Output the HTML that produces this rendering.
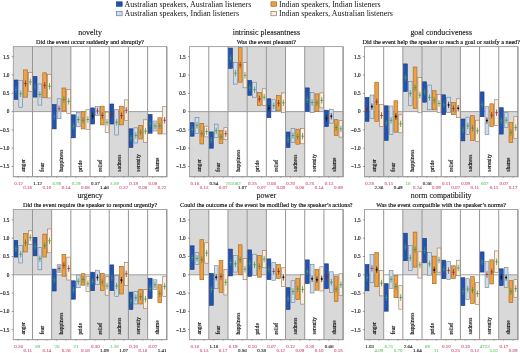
<!DOCTYPE html><html><head><meta charset="utf-8"><style>html,body{margin:0;padding:0;background:#fff;overflow:hidden;}svg{display:block}.d{fill:#111;stroke:#111;stroke-width:0.15px}.n{fill:#111}</style></head><body>
<svg width="520" height="353" viewBox="0 0 520 353" font-family='"Liberation Serif", "Times New Roman", serif'>
<rect width="520" height="353" fill="#fff"/>
<rect x="116.55" y="1.85" width="5.6" height="4.4" fill="#2153b2" stroke="#1a3a7a" stroke-width="0.7"/>
<text x="124.6" y="7.1" font-size="7.9" class="n">Australian speakers, Australian listeners</text>
<rect x="116.55" y="11.35" width="5.6" height="4.4" fill="#d0dcea" stroke="#6a809c" stroke-width="0.7"/>
<text x="124.6" y="16.4" font-size="7.9" class="n">Australian speakers, Indian listeners</text>
<rect x="270.95" y="1.85" width="5.6" height="4.4" fill="#efa043" stroke="#9a6424" stroke-width="0.7"/>
<text x="279" y="7.1" font-size="7.9" class="n">Indian speakers, Indian listeners</text>
<rect x="270.95" y="11.35" width="5.6" height="4.4" fill="#fcefdf" stroke="#94785a" stroke-width="0.7"/>
<text x="279" y="16.4" font-size="7.9" class="n">Indian speakers, Australian listeners</text>
<text x="90.05" y="35.4" font-size="7.9" text-anchor="middle" class="n" stroke="#111" stroke-width="0.1">novelty</text>
<text x="90.05" y="43.6" font-size="6.2" text-anchor="middle" class="d">Did the event occur suddenly and abruptly?</text>
<rect x="13.3" y="46.6" width="19.19" height="65" fill="#d9d9d9"/>
<rect x="32.49" y="46.6" width="19.19" height="65" fill="#d9d9d9"/>
<rect x="51.67" y="46.6" width="19.19" height="65" fill="#d9d9d9"/>
<rect x="109.24" y="111.6" width="19.19" height="65.1" fill="#d9d9d9"/>
<rect x="128.43" y="111.6" width="19.19" height="65.1" fill="#d9d9d9"/>
<line x1="13.3" y1="111.6" x2="166.8" y2="111.6" stroke="#8a8a8a" stroke-width="0.8"/>
<line x1="32.49" y1="46.6" x2="32.49" y2="176.7" stroke="#969696" stroke-width="1.0"/>
<line x1="51.67" y1="46.6" x2="51.67" y2="176.7" stroke="#969696" stroke-width="1.0"/>
<line x1="70.86" y1="46.6" x2="70.86" y2="176.7" stroke="#969696" stroke-width="1.0"/>
<line x1="90.05" y1="46.6" x2="90.05" y2="176.7" stroke="#969696" stroke-width="1.0"/>
<line x1="109.24" y1="46.6" x2="109.24" y2="176.7" stroke="#969696" stroke-width="1.0"/>
<line x1="128.43" y1="46.6" x2="128.43" y2="176.7" stroke="#969696" stroke-width="1.0"/>
<line x1="147.61" y1="46.6" x2="147.61" y2="176.7" stroke="#969696" stroke-width="1.0"/>
<rect x="14" y="80" width="3.8" height="19.4" fill="#2153b2" stroke="#1a3a7a" stroke-width="0.6"/>
<line x1="15.9" y1="86.5" x2="15.9" y2="92.9" stroke="#4f86b8" stroke-width="0.7"/>
<line x1="14.6" y1="89.7" x2="17.3" y2="89.7" stroke="#4f86b8" stroke-width="0.7"/>
<rect x="18.8" y="80.3" width="3.8" height="27.1" fill="#d0dcea" stroke="#6a809c" stroke-width="0.6"/>
<line x1="20.7" y1="90.65" x2="20.7" y2="97.05" stroke="#3a8a3a" stroke-width="0.7"/>
<line x1="19.4" y1="93.85" x2="22.1" y2="93.85" stroke="#3a8a3a" stroke-width="0.7"/>
<rect x="23.6" y="69.9" width="3.8" height="27.3" fill="#efa043" stroke="#9a6424" stroke-width="0.6"/>
<line x1="25.5" y1="80.35" x2="25.5" y2="86.75" stroke="#8a1c1c" stroke-width="0.7"/>
<line x1="24.2" y1="83.55" x2="26.9" y2="83.55" stroke="#8a1c1c" stroke-width="0.7"/>
<rect x="28.4" y="72.5" width="3.8" height="18.8" fill="#fcefdf" stroke="#94785a" stroke-width="0.6"/>
<line x1="30.3" y1="78.7" x2="30.3" y2="85.1" stroke="#3a8a3a" stroke-width="0.7"/>
<line x1="29" y1="81.9" x2="31.7" y2="81.9" stroke="#3a8a3a" stroke-width="0.7"/>
<rect x="33.19" y="76.5" width="3.8" height="20.6" fill="#2153b2" stroke="#1a3a7a" stroke-width="0.6"/>
<line x1="35.09" y1="83.6" x2="35.09" y2="90" stroke="#4f86b8" stroke-width="0.7"/>
<line x1="33.79" y1="86.8" x2="36.49" y2="86.8" stroke="#4f86b8" stroke-width="0.7"/>
<rect x="37.99" y="83.9" width="3.8" height="21.2" fill="#d0dcea" stroke="#6a809c" stroke-width="0.6"/>
<line x1="39.89" y1="91.3" x2="39.89" y2="97.7" stroke="#3a8a3a" stroke-width="0.7"/>
<line x1="38.59" y1="94.5" x2="41.29" y2="94.5" stroke="#3a8a3a" stroke-width="0.7"/>
<rect x="42.79" y="72.8" width="3.8" height="25" fill="#efa043" stroke="#9a6424" stroke-width="0.6"/>
<line x1="44.69" y1="82.1" x2="44.69" y2="88.5" stroke="#8a1c1c" stroke-width="0.7"/>
<line x1="43.39" y1="85.3" x2="46.09" y2="85.3" stroke="#8a1c1c" stroke-width="0.7"/>
<rect x="47.59" y="74.5" width="3.8" height="23.5" fill="#fcefdf" stroke="#94785a" stroke-width="0.6"/>
<line x1="49.49" y1="83.05" x2="49.49" y2="89.45" stroke="#3a8a3a" stroke-width="0.7"/>
<line x1="48.19" y1="86.25" x2="50.89" y2="86.25" stroke="#3a8a3a" stroke-width="0.7"/>
<rect x="52.38" y="104.6" width="3.8" height="24.3" fill="#2153b2" stroke="#1a3a7a" stroke-width="0.6"/>
<line x1="54.27" y1="113.55" x2="54.27" y2="119.95" stroke="#4f86b8" stroke-width="0.7"/>
<line x1="52.98" y1="116.75" x2="55.67" y2="116.75" stroke="#4f86b8" stroke-width="0.7"/>
<rect x="57.17" y="98.8" width="3.8" height="19.9" fill="#d0dcea" stroke="#6a809c" stroke-width="0.6"/>
<line x1="59.07" y1="105.55" x2="59.07" y2="111.95" stroke="#8a1c1c" stroke-width="0.7"/>
<line x1="57.77" y1="108.75" x2="60.47" y2="108.75" stroke="#8a1c1c" stroke-width="0.7"/>
<rect x="61.98" y="88" width="3.8" height="23" fill="#efa043" stroke="#9a6424" stroke-width="0.6"/>
<line x1="63.88" y1="96.3" x2="63.88" y2="102.7" stroke="#3a8a3a" stroke-width="0.7"/>
<line x1="62.58" y1="99.5" x2="65.28" y2="99.5" stroke="#3a8a3a" stroke-width="0.7"/>
<rect x="66.78" y="89.3" width="3.8" height="24.3" fill="#fcefdf" stroke="#94785a" stroke-width="0.6"/>
<line x1="68.68" y1="98.25" x2="68.68" y2="104.65" stroke="#3a8a3a" stroke-width="0.7"/>
<line x1="67.38" y1="101.45" x2="70.08" y2="101.45" stroke="#3a8a3a" stroke-width="0.7"/>
<rect x="71.56" y="114.8" width="3.8" height="23" fill="#2153b2" stroke="#1a3a7a" stroke-width="0.6"/>
<line x1="73.46" y1="123.1" x2="73.46" y2="129.5" stroke="#45a070" stroke-width="0.7"/>
<line x1="72.16" y1="126.3" x2="74.86" y2="126.3" stroke="#45a070" stroke-width="0.7"/>
<rect x="76.36" y="112.3" width="3.8" height="14.5" fill="#d0dcea" stroke="#6a809c" stroke-width="0.6"/>
<line x1="78.26" y1="116.35" x2="78.26" y2="122.75" stroke="#3a8a3a" stroke-width="0.7"/>
<line x1="76.96" y1="119.55" x2="79.66" y2="119.55" stroke="#3a8a3a" stroke-width="0.7"/>
<rect x="81.16" y="111.8" width="3.8" height="17.1" fill="#efa043" stroke="#9a6424" stroke-width="0.6"/>
<line x1="83.06" y1="117.15" x2="83.06" y2="123.55" stroke="#3a8a3a" stroke-width="0.7"/>
<line x1="81.76" y1="120.35" x2="84.46" y2="120.35" stroke="#3a8a3a" stroke-width="0.7"/>
<rect x="85.96" y="109.7" width="3.8" height="19.6" fill="#fcefdf" stroke="#94785a" stroke-width="0.6"/>
<line x1="87.86" y1="116.3" x2="87.86" y2="122.7" stroke="#3a8a3a" stroke-width="0.7"/>
<line x1="86.56" y1="119.5" x2="89.26" y2="119.5" stroke="#3a8a3a" stroke-width="0.7"/>
<rect x="90.75" y="107.9" width="3.8" height="16.1" fill="#2153b2" stroke="#1a3a7a" stroke-width="0.6"/>
<line x1="92.65" y1="112.75" x2="92.65" y2="119.15" stroke="#111111" stroke-width="0.7"/>
<circle cx="92.65" cy="115.95" r="1.05" fill="#111111"/>
<rect x="95.55" y="106.5" width="3.8" height="9" fill="#d0dcea" stroke="#6a809c" stroke-width="0.6"/>
<line x1="97.45" y1="107.8" x2="97.45" y2="114.2" stroke="#8a1c1c" stroke-width="0.7"/>
<line x1="96.15" y1="111" x2="98.85" y2="111" stroke="#8a1c1c" stroke-width="0.7"/>
<rect x="100.35" y="106.2" width="3.8" height="18.7" fill="#efa043" stroke="#9a6424" stroke-width="0.6"/>
<line x1="102.25" y1="112.35" x2="102.25" y2="118.75" stroke="#8a1c1c" stroke-width="0.7"/>
<line x1="100.95" y1="115.55" x2="103.65" y2="115.55" stroke="#8a1c1c" stroke-width="0.7"/>
<rect x="105.15" y="112.1" width="3.8" height="20.4" fill="#fcefdf" stroke="#94785a" stroke-width="0.6"/>
<line x1="107.05" y1="119.1" x2="107.05" y2="125.5" stroke="#3a8a3a" stroke-width="0.7"/>
<line x1="105.75" y1="122.3" x2="108.45" y2="122.3" stroke="#3a8a3a" stroke-width="0.7"/>
<rect x="109.94" y="104" width="3.8" height="20" fill="#2153b2" stroke="#1a3a7a" stroke-width="0.6"/>
<line x1="111.84" y1="110.8" x2="111.84" y2="117.2" stroke="#8a1c1c" stroke-width="0.7"/>
<line x1="110.54" y1="114" x2="113.24" y2="114" stroke="#8a1c1c" stroke-width="0.7"/>
<rect x="114.74" y="109.6" width="3.8" height="25.4" fill="#d0dcea" stroke="#6a809c" stroke-width="0.6"/>
<line x1="116.64" y1="119.1" x2="116.64" y2="125.5" stroke="#3a8a3a" stroke-width="0.7"/>
<line x1="115.34" y1="122.3" x2="118.04" y2="122.3" stroke="#3a8a3a" stroke-width="0.7"/>
<rect x="119.54" y="106.2" width="3.8" height="18.7" fill="#efa043" stroke="#9a6424" stroke-width="0.6"/>
<line x1="121.44" y1="112.35" x2="121.44" y2="118.75" stroke="#8a1c1c" stroke-width="0.7"/>
<line x1="120.14" y1="115.55" x2="122.84" y2="115.55" stroke="#8a1c1c" stroke-width="0.7"/>
<rect x="124.34" y="99.9" width="3.8" height="20.7" fill="#fcefdf" stroke="#94785a" stroke-width="0.6"/>
<line x1="126.24" y1="107.05" x2="126.24" y2="113.45" stroke="#8a1c1c" stroke-width="0.7"/>
<line x1="124.94" y1="110.25" x2="127.64" y2="110.25" stroke="#8a1c1c" stroke-width="0.7"/>
<rect x="129.12" y="128.8" width="3.8" height="18.8" fill="#2153b2" stroke="#1a3a7a" stroke-width="0.6"/>
<line x1="131.03" y1="135" x2="131.03" y2="141.4" stroke="#45a070" stroke-width="0.7"/>
<line x1="129.72" y1="138.2" x2="132.43" y2="138.2" stroke="#45a070" stroke-width="0.7"/>
<rect x="133.93" y="127.8" width="3.8" height="15.2" fill="#d0dcea" stroke="#6a809c" stroke-width="0.6"/>
<line x1="135.83" y1="132.2" x2="135.83" y2="138.6" stroke="#3a8a3a" stroke-width="0.7"/>
<line x1="134.53" y1="135.4" x2="137.23" y2="135.4" stroke="#3a8a3a" stroke-width="0.7"/>
<rect x="138.72" y="125.6" width="3.8" height="13.4" fill="#efa043" stroke="#9a6424" stroke-width="0.6"/>
<line x1="140.62" y1="129.1" x2="140.62" y2="135.5" stroke="#3a8a3a" stroke-width="0.7"/>
<line x1="139.32" y1="132.3" x2="142.03" y2="132.3" stroke="#3a8a3a" stroke-width="0.7"/>
<rect x="143.53" y="119.8" width="3.8" height="22.6" fill="#fcefdf" stroke="#94785a" stroke-width="0.6"/>
<line x1="145.43" y1="127.9" x2="145.43" y2="134.3" stroke="#3a8a3a" stroke-width="0.7"/>
<line x1="144.12" y1="131.1" x2="146.83" y2="131.1" stroke="#3a8a3a" stroke-width="0.7"/>
<rect x="148.31" y="114.4" width="3.8" height="18.8" fill="#2153b2" stroke="#1a3a7a" stroke-width="0.6"/>
<line x1="150.21" y1="120.6" x2="150.21" y2="127" stroke="#45a070" stroke-width="0.7"/>
<line x1="148.91" y1="123.8" x2="151.61" y2="123.8" stroke="#45a070" stroke-width="0.7"/>
<rect x="153.11" y="121" width="3.8" height="10" fill="#d0dcea" stroke="#6a809c" stroke-width="0.6"/>
<line x1="155.01" y1="122.8" x2="155.01" y2="129.2" stroke="#3a8a3a" stroke-width="0.7"/>
<line x1="153.71" y1="126" x2="156.41" y2="126" stroke="#3a8a3a" stroke-width="0.7"/>
<rect x="157.91" y="117.8" width="3.8" height="16.2" fill="#efa043" stroke="#9a6424" stroke-width="0.6"/>
<line x1="159.81" y1="122.7" x2="159.81" y2="129.1" stroke="#3a8a3a" stroke-width="0.7"/>
<line x1="158.51" y1="125.9" x2="161.21" y2="125.9" stroke="#3a8a3a" stroke-width="0.7"/>
<rect x="162.71" y="106.5" width="3.8" height="27.5" fill="#fcefdf" stroke="#94785a" stroke-width="0.6"/>
<line x1="164.61" y1="117.05" x2="164.61" y2="123.45" stroke="#8a1c1c" stroke-width="0.7"/>
<line x1="163.31" y1="120.25" x2="166.01" y2="120.25" stroke="#8a1c1c" stroke-width="0.7"/>
<text transform="translate(24.89,171.7) rotate(-90)" font-size="5.6" class="d">anger</text>
<text transform="translate(44.08,171.7) rotate(-90)" font-size="5.6" class="d">fear</text>
<text transform="translate(63.27,171.7) rotate(-90)" font-size="5.6" class="d">happiness</text>
<text transform="translate(82.46,171.7) rotate(-90)" font-size="5.6" class="d">pride</text>
<text transform="translate(101.64,171.7) rotate(-90)" font-size="5.6" class="d">relief</text>
<text transform="translate(120.83,171.7) rotate(-90)" font-size="5.6" class="d">sadness</text>
<text transform="translate(140.02,171.7) rotate(-90)" font-size="5.6" class="d">serenity</text>
<text transform="translate(159.21,171.7) rotate(-90)" font-size="5.6" class="d">shame</text>
<rect x="13.3" y="46.6" width="153.5" height="130.1" fill="none" stroke="#9c9c9c" stroke-width="0.9"/>
<line x1="12.85" y1="176.7" x2="167.25" y2="176.7" stroke="#999" stroke-width="0.9"/>
<line x1="166.8" y1="46.6" x2="166.8" y2="176.7" stroke="#888" stroke-width="0.9"/>
<line x1="11.7" y1="166.5" x2="13.3" y2="166.5" stroke="#555" stroke-width="0.6"/>
<text x="9.4" y="168.3" font-size="5.2" text-anchor="end" class="d">−1.5</text>
<line x1="11.7" y1="148.2" x2="13.3" y2="148.2" stroke="#555" stroke-width="0.6"/>
<text x="9.4" y="150" font-size="5.2" text-anchor="end" class="d">−1.0</text>
<line x1="11.7" y1="129.9" x2="13.3" y2="129.9" stroke="#555" stroke-width="0.6"/>
<text x="9.4" y="131.7" font-size="5.2" text-anchor="end" class="d">−0.5</text>
<line x1="11.7" y1="111.6" x2="13.3" y2="111.6" stroke="#555" stroke-width="0.6"/>
<text x="9.4" y="113.4" font-size="5.2" text-anchor="end" class="d">0</text>
<line x1="11.7" y1="93.3" x2="13.3" y2="93.3" stroke="#555" stroke-width="0.6"/>
<text x="9.4" y="95.1" font-size="5.2" text-anchor="end" class="d">0.5</text>
<line x1="11.7" y1="75" x2="13.3" y2="75" stroke="#555" stroke-width="0.6"/>
<text x="9.4" y="76.8" font-size="5.2" text-anchor="end" class="d">1.0</text>
<line x1="11.7" y1="56.7" x2="13.3" y2="56.7" stroke="#555" stroke-width="0.6"/>
<text x="9.4" y="58.5" font-size="5.2" text-anchor="end" class="d">1.5</text>
<line x1="18.2" y1="176.7" x2="18.2" y2="178" stroke="#777" stroke-width="0.5"/>
<line x1="27.7" y1="176.7" x2="27.7" y2="178" stroke="#777" stroke-width="0.5"/>
<line x1="37.39" y1="176.7" x2="37.39" y2="178" stroke="#777" stroke-width="0.5"/>
<line x1="46.89" y1="176.7" x2="46.89" y2="178" stroke="#777" stroke-width="0.5"/>
<line x1="56.57" y1="176.7" x2="56.57" y2="178" stroke="#777" stroke-width="0.5"/>
<line x1="66.08" y1="176.7" x2="66.08" y2="178" stroke="#777" stroke-width="0.5"/>
<line x1="75.76" y1="176.7" x2="75.76" y2="178" stroke="#777" stroke-width="0.5"/>
<line x1="85.26" y1="176.7" x2="85.26" y2="178" stroke="#777" stroke-width="0.5"/>
<line x1="94.95" y1="176.7" x2="94.95" y2="178" stroke="#777" stroke-width="0.5"/>
<line x1="104.45" y1="176.7" x2="104.45" y2="178" stroke="#777" stroke-width="0.5"/>
<line x1="114.14" y1="176.7" x2="114.14" y2="178" stroke="#777" stroke-width="0.5"/>
<line x1="123.64" y1="176.7" x2="123.64" y2="178" stroke="#777" stroke-width="0.5"/>
<line x1="133.33" y1="176.7" x2="133.33" y2="178" stroke="#777" stroke-width="0.5"/>
<line x1="142.83" y1="176.7" x2="142.83" y2="178" stroke="#777" stroke-width="0.5"/>
<line x1="152.51" y1="176.7" x2="152.51" y2="178" stroke="#777" stroke-width="0.5"/>
<line x1="162.01" y1="176.7" x2="162.01" y2="178" stroke="#777" stroke-width="0.5"/>
<text x="18.5" y="185.2" font-size="5.0" text-anchor="middle" fill="#d4667f" stroke="#d4667f" stroke-width="0.12">0.12</text>
<text x="27.7" y="188.9" font-size="5.0" text-anchor="middle" fill="#d4667f" stroke="#d4667f" stroke-width="0.12">0.18</text>
<text x="37.69" y="185.2" font-size="5.0" text-anchor="middle" fill="#2a2a2a" stroke="#2a2a2a" stroke-width="0.12">1.12</text>
<text x="46.89" y="188.9" font-size="5.0" text-anchor="middle" fill="#d4667f" stroke="#d4667f" stroke-width="0.12">0.10</text>
<text x="56.88" y="185.2" font-size="5.0" text-anchor="middle" fill="#7ccf7c" stroke="#7ccf7c" stroke-width="0.12">0.98</text>
<text x="66.08" y="188.9" font-size="5.0" text-anchor="middle" fill="#d4667f" stroke="#d4667f" stroke-width="0.12">0.14</text>
<text x="76.06" y="185.2" font-size="5.0" text-anchor="middle" fill="#7ccf7c" stroke="#7ccf7c" stroke-width="0.12">0.29</text>
<text x="85.26" y="188.9" font-size="5.0" text-anchor="middle" fill="#d4667f" stroke="#d4667f" stroke-width="0.12">0.08</text>
<text x="95.25" y="185.2" font-size="5.0" text-anchor="middle" fill="#2a2a2a" stroke="#2a2a2a" stroke-width="0.12">0.37</text>
<text x="104.45" y="188.9" font-size="5.0" text-anchor="middle" fill="#2a2a2a" stroke="#2a2a2a" stroke-width="0.12">1.46</text>
<text x="114.44" y="185.2" font-size="5.0" text-anchor="middle" fill="#7ccf7c" stroke="#7ccf7c" stroke-width="0.12">3.59</text>
<text x="123.64" y="188.9" font-size="5.0" text-anchor="middle" fill="#d4667f" stroke="#d4667f" stroke-width="0.12">0.32</text>
<text x="133.62" y="185.2" font-size="5.0" text-anchor="middle" fill="#d4667f" stroke="#d4667f" stroke-width="0.12">0.19</text>
<text x="142.83" y="188.9" font-size="5.0" text-anchor="middle" fill="#d4667f" stroke="#d4667f" stroke-width="0.12">0.08</text>
<text x="152.81" y="185.2" font-size="5.0" text-anchor="middle" fill="#d4667f" stroke="#d4667f" stroke-width="0.12">0.08</text>
<text x="162.01" y="188.9" font-size="5.0" text-anchor="middle" fill="#d4667f" stroke="#d4667f" stroke-width="0.12">0.22</text>
<text x="266.35" y="35.4" font-size="7.9" text-anchor="middle" class="n" stroke="#111" stroke-width="0.1">intrinsic pleasantness</text>
<text x="266.35" y="43.6" font-size="6.2" text-anchor="middle" class="d">Was the event pleasant?</text>
<rect x="189.6" y="111.6" width="19.19" height="65.1" fill="#d9d9d9"/>
<rect x="208.79" y="111.6" width="19.19" height="65.1" fill="#d9d9d9"/>
<rect x="227.97" y="46.6" width="19.19" height="65" fill="#d9d9d9"/>
<rect x="247.16" y="46.6" width="19.19" height="65" fill="#d9d9d9"/>
<rect x="266.35" y="46.6" width="19.19" height="65" fill="#d9d9d9"/>
<rect x="285.54" y="111.6" width="19.19" height="65.1" fill="#d9d9d9"/>
<rect x="304.73" y="46.6" width="19.19" height="65" fill="#d9d9d9"/>
<rect x="323.91" y="111.6" width="19.19" height="65.1" fill="#d9d9d9"/>
<line x1="189.6" y1="111.6" x2="343.1" y2="111.6" stroke="#8a8a8a" stroke-width="0.8"/>
<line x1="208.79" y1="46.6" x2="208.79" y2="176.7" stroke="#969696" stroke-width="1.0"/>
<line x1="227.97" y1="46.6" x2="227.97" y2="176.7" stroke="#969696" stroke-width="1.0"/>
<line x1="247.16" y1="46.6" x2="247.16" y2="176.7" stroke="#969696" stroke-width="1.0"/>
<line x1="266.35" y1="46.6" x2="266.35" y2="176.7" stroke="#969696" stroke-width="1.0"/>
<line x1="285.54" y1="46.6" x2="285.54" y2="176.7" stroke="#969696" stroke-width="1.0"/>
<line x1="304.73" y1="46.6" x2="304.73" y2="176.7" stroke="#969696" stroke-width="1.0"/>
<line x1="323.91" y1="46.6" x2="323.91" y2="176.7" stroke="#969696" stroke-width="1.0"/>
<rect x="190.3" y="122.7" width="3.8" height="13.5" fill="#2153b2" stroke="#1a3a7a" stroke-width="0.6"/>
<line x1="192.2" y1="126.25" x2="192.2" y2="132.65" stroke="#45a070" stroke-width="0.7"/>
<line x1="190.9" y1="129.45" x2="193.6" y2="129.45" stroke="#45a070" stroke-width="0.7"/>
<rect x="195.1" y="117.3" width="3.8" height="16" fill="#d0dcea" stroke="#6a809c" stroke-width="0.6"/>
<line x1="197" y1="122.1" x2="197" y2="128.5" stroke="#3a8a3a" stroke-width="0.7"/>
<line x1="195.7" y1="125.3" x2="198.4" y2="125.3" stroke="#3a8a3a" stroke-width="0.7"/>
<rect x="199.9" y="123.4" width="3.8" height="20.6" fill="#efa043" stroke="#9a6424" stroke-width="0.6"/>
<line x1="201.8" y1="130.5" x2="201.8" y2="136.9" stroke="#3a8a3a" stroke-width="0.7"/>
<line x1="200.5" y1="133.7" x2="203.2" y2="133.7" stroke="#3a8a3a" stroke-width="0.7"/>
<rect x="204.7" y="126.2" width="3.8" height="10.7" fill="#fcefdf" stroke="#94785a" stroke-width="0.6"/>
<line x1="206.6" y1="128.35" x2="206.6" y2="134.75" stroke="#3a8a3a" stroke-width="0.7"/>
<line x1="205.3" y1="131.55" x2="208" y2="131.55" stroke="#3a8a3a" stroke-width="0.7"/>
<rect x="209.49" y="131.9" width="3.8" height="16.3" fill="#2153b2" stroke="#1a3a7a" stroke-width="0.6"/>
<line x1="211.39" y1="136.85" x2="211.39" y2="143.25" stroke="#45a070" stroke-width="0.7"/>
<line x1="210.09" y1="140.05" x2="212.79" y2="140.05" stroke="#45a070" stroke-width="0.7"/>
<rect x="214.29" y="124.1" width="3.8" height="13.5" fill="#d0dcea" stroke="#6a809c" stroke-width="0.6"/>
<line x1="216.19" y1="127.65" x2="216.19" y2="134.05" stroke="#3a8a3a" stroke-width="0.7"/>
<line x1="214.89" y1="130.85" x2="217.59" y2="130.85" stroke="#3a8a3a" stroke-width="0.7"/>
<rect x="219.09" y="130.5" width="3.8" height="12.8" fill="#efa043" stroke="#9a6424" stroke-width="0.6"/>
<line x1="220.99" y1="133.7" x2="220.99" y2="140.1" stroke="#3a8a3a" stroke-width="0.7"/>
<line x1="219.69" y1="136.9" x2="222.39" y2="136.9" stroke="#3a8a3a" stroke-width="0.7"/>
<rect x="223.89" y="127.7" width="3.8" height="12" fill="#fcefdf" stroke="#94785a" stroke-width="0.6"/>
<line x1="225.79" y1="130.5" x2="225.79" y2="136.9" stroke="#8a1c1c" stroke-width="0.7"/>
<line x1="224.49" y1="133.7" x2="227.19" y2="133.7" stroke="#8a1c1c" stroke-width="0.7"/>
<rect x="228.67" y="48.1" width="3.8" height="20.2" fill="#2153b2" stroke="#1a3a7a" stroke-width="0.6"/>
<line x1="230.57" y1="55" x2="230.57" y2="61.4" stroke="#45a070" stroke-width="0.7"/>
<line x1="229.27" y1="58.2" x2="231.97" y2="58.2" stroke="#45a070" stroke-width="0.7"/>
<rect x="233.47" y="62.3" width="3.8" height="21.8" fill="#d0dcea" stroke="#6a809c" stroke-width="0.6"/>
<line x1="235.38" y1="70" x2="235.38" y2="76.4" stroke="#3a8a3a" stroke-width="0.7"/>
<line x1="234.07" y1="73.2" x2="236.78" y2="73.2" stroke="#3a8a3a" stroke-width="0.7"/>
<rect x="238.27" y="47.7" width="3.8" height="34.5" fill="#efa043" stroke="#9a6424" stroke-width="0.6"/>
<line x1="240.17" y1="61.75" x2="240.17" y2="68.15" stroke="#8a1c1c" stroke-width="0.7"/>
<line x1="238.87" y1="64.95" x2="241.57" y2="64.95" stroke="#8a1c1c" stroke-width="0.7"/>
<rect x="243.07" y="62.7" width="3.8" height="25.1" fill="#fcefdf" stroke="#94785a" stroke-width="0.6"/>
<line x1="244.97" y1="72.05" x2="244.97" y2="78.45" stroke="#3a8a3a" stroke-width="0.7"/>
<line x1="243.67" y1="75.25" x2="246.38" y2="75.25" stroke="#3a8a3a" stroke-width="0.7"/>
<rect x="247.86" y="80.4" width="3.8" height="14.9" fill="#2153b2" stroke="#1a3a7a" stroke-width="0.6"/>
<line x1="249.76" y1="84.65" x2="249.76" y2="91.05" stroke="#45a070" stroke-width="0.7"/>
<line x1="248.46" y1="87.85" x2="251.16" y2="87.85" stroke="#45a070" stroke-width="0.7"/>
<rect x="252.66" y="82.2" width="3.8" height="15" fill="#d0dcea" stroke="#6a809c" stroke-width="0.6"/>
<line x1="254.56" y1="86.5" x2="254.56" y2="92.9" stroke="#3a8a3a" stroke-width="0.7"/>
<line x1="253.26" y1="89.7" x2="255.96" y2="89.7" stroke="#3a8a3a" stroke-width="0.7"/>
<rect x="257.46" y="92.5" width="3.8" height="13.1" fill="#efa043" stroke="#9a6424" stroke-width="0.6"/>
<line x1="259.36" y1="95.85" x2="259.36" y2="102.25" stroke="#8a1c1c" stroke-width="0.7"/>
<line x1="258.06" y1="99.05" x2="260.76" y2="99.05" stroke="#8a1c1c" stroke-width="0.7"/>
<rect x="262.26" y="88.8" width="3.8" height="16.8" fill="#fcefdf" stroke="#94785a" stroke-width="0.6"/>
<line x1="264.16" y1="94" x2="264.16" y2="100.4" stroke="#3a8a3a" stroke-width="0.7"/>
<line x1="262.86" y1="97.2" x2="265.56" y2="97.2" stroke="#3a8a3a" stroke-width="0.7"/>
<rect x="267.05" y="98.8" width="3.8" height="18.9" fill="#2153b2" stroke="#1a3a7a" stroke-width="0.6"/>
<line x1="268.95" y1="105.05" x2="268.95" y2="111.45" stroke="#111111" stroke-width="0.7"/>
<circle cx="268.95" cy="108.25" r="1.05" fill="#111111"/>
<rect x="271.85" y="99.8" width="3.8" height="11.9" fill="#d0dcea" stroke="#6a809c" stroke-width="0.6"/>
<line x1="273.75" y1="102.55" x2="273.75" y2="108.95" stroke="#3a8a3a" stroke-width="0.7"/>
<line x1="272.45" y1="105.75" x2="275.15" y2="105.75" stroke="#3a8a3a" stroke-width="0.7"/>
<rect x="276.65" y="95.5" width="3.8" height="15.3" fill="#efa043" stroke="#9a6424" stroke-width="0.6"/>
<line x1="278.55" y1="99.95" x2="278.55" y2="106.35" stroke="#8a1c1c" stroke-width="0.7"/>
<line x1="277.25" y1="103.15" x2="279.95" y2="103.15" stroke="#8a1c1c" stroke-width="0.7"/>
<rect x="281.45" y="92.9" width="3.8" height="19.8" fill="#fcefdf" stroke="#94785a" stroke-width="0.6"/>
<line x1="283.35" y1="99.6" x2="283.35" y2="106" stroke="#3a8a3a" stroke-width="0.7"/>
<line x1="282.05" y1="102.8" x2="284.75" y2="102.8" stroke="#3a8a3a" stroke-width="0.7"/>
<rect x="286.24" y="132" width="3.8" height="15.5" fill="#2153b2" stroke="#1a3a7a" stroke-width="0.6"/>
<line x1="288.14" y1="136.55" x2="288.14" y2="142.95" stroke="#45a070" stroke-width="0.7"/>
<line x1="286.84" y1="139.75" x2="289.54" y2="139.75" stroke="#45a070" stroke-width="0.7"/>
<rect x="291.04" y="128.5" width="3.8" height="14.1" fill="#d0dcea" stroke="#6a809c" stroke-width="0.6"/>
<line x1="292.94" y1="132.35" x2="292.94" y2="138.75" stroke="#3a8a3a" stroke-width="0.7"/>
<line x1="291.64" y1="135.55" x2="294.34" y2="135.55" stroke="#3a8a3a" stroke-width="0.7"/>
<rect x="295.84" y="129.2" width="3.8" height="15" fill="#efa043" stroke="#9a6424" stroke-width="0.6"/>
<line x1="297.74" y1="133.5" x2="297.74" y2="139.9" stroke="#3a8a3a" stroke-width="0.7"/>
<line x1="296.44" y1="136.7" x2="299.14" y2="136.7" stroke="#3a8a3a" stroke-width="0.7"/>
<rect x="300.64" y="128.6" width="3.8" height="15.2" fill="#fcefdf" stroke="#94785a" stroke-width="0.6"/>
<line x1="302.54" y1="133" x2="302.54" y2="139.4" stroke="#3a8a3a" stroke-width="0.7"/>
<line x1="301.24" y1="136.2" x2="303.94" y2="136.2" stroke="#3a8a3a" stroke-width="0.7"/>
<rect x="305.43" y="87.9" width="3.8" height="23.4" fill="#2153b2" stroke="#1a3a7a" stroke-width="0.6"/>
<line x1="307.32" y1="96.4" x2="307.32" y2="102.8" stroke="#45a070" stroke-width="0.7"/>
<line x1="306.03" y1="99.6" x2="308.73" y2="99.6" stroke="#45a070" stroke-width="0.7"/>
<rect x="310.23" y="92.3" width="3.8" height="20.4" fill="#d0dcea" stroke="#6a809c" stroke-width="0.6"/>
<line x1="312.12" y1="99.3" x2="312.12" y2="105.7" stroke="#3a8a3a" stroke-width="0.7"/>
<line x1="310.83" y1="102.5" x2="313.53" y2="102.5" stroke="#3a8a3a" stroke-width="0.7"/>
<rect x="315.03" y="93.9" width="3.8" height="17.8" fill="#efa043" stroke="#9a6424" stroke-width="0.6"/>
<line x1="316.93" y1="99.6" x2="316.93" y2="106" stroke="#3a8a3a" stroke-width="0.7"/>
<line x1="315.63" y1="102.8" x2="318.33" y2="102.8" stroke="#3a8a3a" stroke-width="0.7"/>
<rect x="319.82" y="92.9" width="3.8" height="14.9" fill="#fcefdf" stroke="#94785a" stroke-width="0.6"/>
<line x1="321.72" y1="97.15" x2="321.72" y2="103.55" stroke="#3a8a3a" stroke-width="0.7"/>
<line x1="320.43" y1="100.35" x2="323.12" y2="100.35" stroke="#3a8a3a" stroke-width="0.7"/>
<rect x="324.61" y="110.2" width="3.8" height="16.4" fill="#2153b2" stroke="#1a3a7a" stroke-width="0.6"/>
<line x1="326.51" y1="115.2" x2="326.51" y2="121.6" stroke="#111111" stroke-width="0.7"/>
<circle cx="326.51" cy="118.4" r="1.05" fill="#111111"/>
<rect x="329.41" y="109.2" width="3.8" height="14" fill="#d0dcea" stroke="#6a809c" stroke-width="0.6"/>
<line x1="331.31" y1="113" x2="331.31" y2="119.4" stroke="#111111" stroke-width="0.7"/>
<circle cx="331.31" cy="116.2" r="1.05" fill="#111111"/>
<rect x="334.21" y="119.7" width="3.8" height="15.7" fill="#efa043" stroke="#9a6424" stroke-width="0.6"/>
<line x1="336.11" y1="124.35" x2="336.11" y2="130.75" stroke="#3a8a3a" stroke-width="0.7"/>
<line x1="334.81" y1="127.55" x2="337.51" y2="127.55" stroke="#3a8a3a" stroke-width="0.7"/>
<rect x="339.01" y="120.7" width="3.8" height="16.4" fill="#fcefdf" stroke="#94785a" stroke-width="0.6"/>
<line x1="340.91" y1="125.7" x2="340.91" y2="132.1" stroke="#3a8a3a" stroke-width="0.7"/>
<line x1="339.61" y1="128.9" x2="342.31" y2="128.9" stroke="#3a8a3a" stroke-width="0.7"/>
<text transform="translate(201.19,171.7) rotate(-90)" font-size="5.6" class="d">anger</text>
<text transform="translate(220.38,171.7) rotate(-90)" font-size="5.6" class="d">fear</text>
<text transform="translate(239.57,171.7) rotate(-90)" font-size="5.6" class="d">happiness</text>
<text transform="translate(258.76,171.7) rotate(-90)" font-size="5.6" class="d">pride</text>
<text transform="translate(277.94,171.7) rotate(-90)" font-size="5.6" class="d">relief</text>
<text transform="translate(297.13,171.7) rotate(-90)" font-size="5.6" class="d">sadness</text>
<text transform="translate(316.32,171.7) rotate(-90)" font-size="5.6" class="d">serenity</text>
<text transform="translate(335.51,171.7) rotate(-90)" font-size="5.6" class="d">shame</text>
<rect x="189.6" y="46.6" width="153.5" height="130.1" fill="none" stroke="#9c9c9c" stroke-width="0.9"/>
<line x1="189.15" y1="176.7" x2="343.55" y2="176.7" stroke="#999" stroke-width="0.9"/>
<line x1="343.1" y1="46.6" x2="343.1" y2="176.7" stroke="#888" stroke-width="0.9"/>
<line x1="188" y1="166.5" x2="189.6" y2="166.5" stroke="#555" stroke-width="0.6"/>
<text x="185.7" y="168.3" font-size="5.2" text-anchor="end" class="d">−1.5</text>
<line x1="188" y1="148.2" x2="189.6" y2="148.2" stroke="#555" stroke-width="0.6"/>
<text x="185.7" y="150" font-size="5.2" text-anchor="end" class="d">−1.0</text>
<line x1="188" y1="129.9" x2="189.6" y2="129.9" stroke="#555" stroke-width="0.6"/>
<text x="185.7" y="131.7" font-size="5.2" text-anchor="end" class="d">−0.5</text>
<line x1="188" y1="111.6" x2="189.6" y2="111.6" stroke="#555" stroke-width="0.6"/>
<text x="185.7" y="113.4" font-size="5.2" text-anchor="end" class="d">0</text>
<line x1="188" y1="93.3" x2="189.6" y2="93.3" stroke="#555" stroke-width="0.6"/>
<text x="185.7" y="95.1" font-size="5.2" text-anchor="end" class="d">0.5</text>
<line x1="188" y1="75" x2="189.6" y2="75" stroke="#555" stroke-width="0.6"/>
<text x="185.7" y="76.8" font-size="5.2" text-anchor="end" class="d">1.0</text>
<line x1="188" y1="56.7" x2="189.6" y2="56.7" stroke="#555" stroke-width="0.6"/>
<text x="185.7" y="58.5" font-size="5.2" text-anchor="end" class="d">1.5</text>
<line x1="194.5" y1="176.7" x2="194.5" y2="178" stroke="#777" stroke-width="0.5"/>
<line x1="204" y1="176.7" x2="204" y2="178" stroke="#777" stroke-width="0.5"/>
<line x1="213.69" y1="176.7" x2="213.69" y2="178" stroke="#777" stroke-width="0.5"/>
<line x1="223.19" y1="176.7" x2="223.19" y2="178" stroke="#777" stroke-width="0.5"/>
<line x1="232.88" y1="176.7" x2="232.88" y2="178" stroke="#777" stroke-width="0.5"/>
<line x1="242.38" y1="176.7" x2="242.38" y2="178" stroke="#777" stroke-width="0.5"/>
<line x1="252.06" y1="176.7" x2="252.06" y2="178" stroke="#777" stroke-width="0.5"/>
<line x1="261.56" y1="176.7" x2="261.56" y2="178" stroke="#777" stroke-width="0.5"/>
<line x1="271.25" y1="176.7" x2="271.25" y2="178" stroke="#777" stroke-width="0.5"/>
<line x1="280.75" y1="176.7" x2="280.75" y2="178" stroke="#777" stroke-width="0.5"/>
<line x1="290.44" y1="176.7" x2="290.44" y2="178" stroke="#777" stroke-width="0.5"/>
<line x1="299.94" y1="176.7" x2="299.94" y2="178" stroke="#777" stroke-width="0.5"/>
<line x1="309.62" y1="176.7" x2="309.62" y2="178" stroke="#777" stroke-width="0.5"/>
<line x1="319.12" y1="176.7" x2="319.12" y2="178" stroke="#777" stroke-width="0.5"/>
<line x1="328.81" y1="176.7" x2="328.81" y2="178" stroke="#777" stroke-width="0.5"/>
<line x1="338.31" y1="176.7" x2="338.31" y2="178" stroke="#777" stroke-width="0.5"/>
<text x="194.8" y="185.2" font-size="5.0" text-anchor="middle" fill="#d4667f" stroke="#d4667f" stroke-width="0.12">0.16</text>
<text x="204" y="188.9" font-size="5.0" text-anchor="middle" fill="#d4667f" stroke="#d4667f" stroke-width="0.12">0.13</text>
<text x="213.99" y="185.2" font-size="5.0" text-anchor="middle" fill="#2a2a2a" stroke="#2a2a2a" stroke-width="0.12">0.54</text>
<text x="223.19" y="188.9" font-size="5.0" text-anchor="middle" fill="#d4667f" stroke="#d4667f" stroke-width="0.12">0.07</text>
<text x="233.17" y="185.2" font-size="5.0" text-anchor="middle" fill="#7ccf7c" stroke="#7ccf7c" stroke-width="0.12">251062</text>
<text x="242.38" y="188.9" font-size="5.0" text-anchor="middle" fill="#2a2a2a" stroke="#2a2a2a" stroke-width="0.12">1.07</text>
<text x="252.36" y="185.2" font-size="5.0" text-anchor="middle" fill="#d4667f" stroke="#d4667f" stroke-width="0.12">0.25</text>
<text x="261.56" y="188.9" font-size="5.0" text-anchor="middle" fill="#d4667f" stroke="#d4667f" stroke-width="0.12">0.07</text>
<text x="271.55" y="185.2" font-size="5.0" text-anchor="middle" fill="#d4667f" stroke="#d4667f" stroke-width="0.12">0.06</text>
<text x="280.75" y="188.9" font-size="5.0" text-anchor="middle" fill="#d4667f" stroke="#d4667f" stroke-width="0.12">0.00</text>
<text x="290.74" y="185.2" font-size="5.0" text-anchor="middle" fill="#d4667f" stroke="#d4667f" stroke-width="0.12">0.20</text>
<text x="299.94" y="188.9" font-size="5.0" text-anchor="middle" fill="#d4667f" stroke="#d4667f" stroke-width="0.12">0.06</text>
<text x="309.93" y="185.2" font-size="5.0" text-anchor="middle" fill="#d4667f" stroke="#d4667f" stroke-width="0.12">0.25</text>
<text x="319.12" y="188.9" font-size="5.0" text-anchor="middle" fill="#d4667f" stroke="#d4667f" stroke-width="0.12">0.14</text>
<text x="329.11" y="185.2" font-size="5.0" text-anchor="middle" fill="#d4667f" stroke="#d4667f" stroke-width="0.12">0.13</text>
<text x="338.31" y="188.9" font-size="5.0" text-anchor="middle" fill="#d4667f" stroke="#d4667f" stroke-width="0.12">0.09</text>
<text x="441.2" y="35.4" font-size="7.9" text-anchor="middle" class="n" stroke="#111" stroke-width="0.1">goal conduciveness</text>
<text x="441.2" y="43.6" font-size="6.2" text-anchor="middle" class="d">Did the event help the speaker to reach a goal or satisfy a need?</text>
<rect x="364.5" y="111.6" width="19.18" height="65.1" fill="#d9d9d9"/>
<rect x="383.68" y="111.6" width="19.18" height="65.1" fill="#d9d9d9"/>
<rect x="402.85" y="46.6" width="19.18" height="65" fill="#d9d9d9"/>
<rect x="422.02" y="46.6" width="19.18" height="65" fill="#d9d9d9"/>
<rect x="441.2" y="46.6" width="19.18" height="65" fill="#d9d9d9"/>
<rect x="460.38" y="111.6" width="19.18" height="65.1" fill="#d9d9d9"/>
<rect x="498.73" y="111.6" width="19.18" height="65.1" fill="#d9d9d9"/>
<line x1="364.5" y1="111.6" x2="517.9" y2="111.6" stroke="#8a8a8a" stroke-width="0.8"/>
<line x1="383.68" y1="46.6" x2="383.68" y2="176.7" stroke="#969696" stroke-width="1.0"/>
<line x1="402.85" y1="46.6" x2="402.85" y2="176.7" stroke="#969696" stroke-width="1.0"/>
<line x1="422.02" y1="46.6" x2="422.02" y2="176.7" stroke="#969696" stroke-width="1.0"/>
<line x1="441.2" y1="46.6" x2="441.2" y2="176.7" stroke="#969696" stroke-width="1.0"/>
<line x1="460.38" y1="46.6" x2="460.38" y2="176.7" stroke="#969696" stroke-width="1.0"/>
<line x1="479.55" y1="46.6" x2="479.55" y2="176.7" stroke="#969696" stroke-width="1.0"/>
<line x1="498.73" y1="46.6" x2="498.73" y2="176.7" stroke="#969696" stroke-width="1.0"/>
<rect x="365.2" y="97.4" width="3.8" height="23.9" fill="#2153b2" stroke="#1a3a7a" stroke-width="0.6"/>
<line x1="367.1" y1="106.15" x2="367.1" y2="112.55" stroke="#8a1c1c" stroke-width="0.7"/>
<line x1="365.8" y1="109.35" x2="368.5" y2="109.35" stroke="#8a1c1c" stroke-width="0.7"/>
<rect x="370" y="95" width="3.8" height="23.3" fill="#d0dcea" stroke="#6a809c" stroke-width="0.6"/>
<line x1="371.9" y1="103.45" x2="371.9" y2="109.85" stroke="#111111" stroke-width="0.7"/>
<circle cx="371.9" cy="106.65" r="1.05" fill="#111111"/>
<rect x="374.8" y="82.2" width="3.8" height="39.3" fill="#efa043" stroke="#9a6424" stroke-width="0.6"/>
<line x1="376.7" y1="98.65" x2="376.7" y2="105.05" stroke="#8a1c1c" stroke-width="0.7"/>
<line x1="375.4" y1="101.85" x2="378.1" y2="101.85" stroke="#8a1c1c" stroke-width="0.7"/>
<rect x="379.6" y="104.5" width="3.8" height="22" fill="#fcefdf" stroke="#94785a" stroke-width="0.6"/>
<line x1="381.5" y1="112.3" x2="381.5" y2="118.7" stroke="#8a1c1c" stroke-width="0.7"/>
<line x1="380.2" y1="115.5" x2="382.9" y2="115.5" stroke="#8a1c1c" stroke-width="0.7"/>
<rect x="384.38" y="105.8" width="3.8" height="34.6" fill="#2153b2" stroke="#1a3a7a" stroke-width="0.6"/>
<line x1="386.27" y1="119.9" x2="386.27" y2="126.3" stroke="#45a070" stroke-width="0.7"/>
<line x1="384.98" y1="123.1" x2="387.68" y2="123.1" stroke="#45a070" stroke-width="0.7"/>
<rect x="389.18" y="106" width="3.8" height="28.6" fill="#d0dcea" stroke="#6a809c" stroke-width="0.6"/>
<line x1="391.07" y1="117.1" x2="391.07" y2="123.5" stroke="#3a8a3a" stroke-width="0.7"/>
<line x1="389.78" y1="120.3" x2="392.48" y2="120.3" stroke="#3a8a3a" stroke-width="0.7"/>
<rect x="393.98" y="100.8" width="3.8" height="31.4" fill="#efa043" stroke="#9a6424" stroke-width="0.6"/>
<line x1="395.88" y1="113.3" x2="395.88" y2="119.7" stroke="#111111" stroke-width="0.7"/>
<circle cx="395.88" cy="116.5" r="1.05" fill="#111111"/>
<rect x="398.77" y="114.8" width="3.8" height="18" fill="#fcefdf" stroke="#94785a" stroke-width="0.6"/>
<line x1="400.67" y1="120.6" x2="400.67" y2="127" stroke="#3a8a3a" stroke-width="0.7"/>
<line x1="399.38" y1="123.8" x2="402.07" y2="123.8" stroke="#3a8a3a" stroke-width="0.7"/>
<rect x="403.55" y="63.9" width="3.8" height="27.6" fill="#2153b2" stroke="#1a3a7a" stroke-width="0.6"/>
<line x1="405.45" y1="74.5" x2="405.45" y2="80.9" stroke="#45a070" stroke-width="0.7"/>
<line x1="404.15" y1="77.7" x2="406.85" y2="77.7" stroke="#45a070" stroke-width="0.7"/>
<rect x="408.35" y="81.5" width="3.8" height="23.8" fill="#d0dcea" stroke="#6a809c" stroke-width="0.6"/>
<line x1="410.25" y1="90.2" x2="410.25" y2="96.6" stroke="#3a8a3a" stroke-width="0.7"/>
<line x1="408.95" y1="93.4" x2="411.65" y2="93.4" stroke="#3a8a3a" stroke-width="0.7"/>
<rect x="413.15" y="67" width="3.8" height="41.3" fill="#efa043" stroke="#9a6424" stroke-width="0.6"/>
<line x1="415.05" y1="84.45" x2="415.05" y2="90.85" stroke="#3a8a3a" stroke-width="0.7"/>
<line x1="413.75" y1="87.65" x2="416.45" y2="87.65" stroke="#3a8a3a" stroke-width="0.7"/>
<rect x="417.95" y="77.4" width="3.8" height="35.4" fill="#fcefdf" stroke="#94785a" stroke-width="0.6"/>
<line x1="419.85" y1="91.9" x2="419.85" y2="98.3" stroke="#3a8a3a" stroke-width="0.7"/>
<line x1="418.55" y1="95.1" x2="421.25" y2="95.1" stroke="#3a8a3a" stroke-width="0.7"/>
<rect x="422.72" y="81.8" width="3.8" height="20.4" fill="#2153b2" stroke="#1a3a7a" stroke-width="0.6"/>
<line x1="424.62" y1="88.8" x2="424.62" y2="95.2" stroke="#45a070" stroke-width="0.7"/>
<line x1="423.32" y1="92" x2="426.02" y2="92" stroke="#45a070" stroke-width="0.7"/>
<rect x="427.52" y="85.1" width="3.8" height="24.7" fill="#d0dcea" stroke="#6a809c" stroke-width="0.6"/>
<line x1="429.42" y1="94.25" x2="429.42" y2="100.65" stroke="#3a8a3a" stroke-width="0.7"/>
<line x1="428.12" y1="97.45" x2="430.82" y2="97.45" stroke="#3a8a3a" stroke-width="0.7"/>
<rect x="432.32" y="90.7" width="3.8" height="19.1" fill="#efa043" stroke="#9a6424" stroke-width="0.6"/>
<line x1="434.22" y1="97.05" x2="434.22" y2="103.45" stroke="#3a8a3a" stroke-width="0.7"/>
<line x1="432.93" y1="100.25" x2="435.62" y2="100.25" stroke="#3a8a3a" stroke-width="0.7"/>
<rect x="437.12" y="94.5" width="3.8" height="17.9" fill="#fcefdf" stroke="#94785a" stroke-width="0.6"/>
<line x1="439.02" y1="100.25" x2="439.02" y2="106.65" stroke="#3a8a3a" stroke-width="0.7"/>
<line x1="437.72" y1="103.45" x2="440.42" y2="103.45" stroke="#3a8a3a" stroke-width="0.7"/>
<rect x="441.9" y="94.8" width="3.8" height="19.9" fill="#2153b2" stroke="#1a3a7a" stroke-width="0.6"/>
<line x1="443.8" y1="101.55" x2="443.8" y2="107.95" stroke="#45a070" stroke-width="0.7"/>
<line x1="442.5" y1="104.75" x2="445.2" y2="104.75" stroke="#45a070" stroke-width="0.7"/>
<rect x="446.7" y="97.2" width="3.8" height="15.5" fill="#d0dcea" stroke="#6a809c" stroke-width="0.6"/>
<line x1="448.6" y1="101.75" x2="448.6" y2="108.15" stroke="#111111" stroke-width="0.7"/>
<circle cx="448.6" cy="104.95" r="1.05" fill="#111111"/>
<rect x="451.5" y="102.4" width="3.8" height="12.3" fill="#efa043" stroke="#9a6424" stroke-width="0.6"/>
<line x1="453.4" y1="105.35" x2="453.4" y2="111.75" stroke="#8a1c1c" stroke-width="0.7"/>
<line x1="452.1" y1="108.55" x2="454.8" y2="108.55" stroke="#8a1c1c" stroke-width="0.7"/>
<rect x="456.3" y="98.8" width="3.8" height="18.9" fill="#fcefdf" stroke="#94785a" stroke-width="0.6"/>
<line x1="458.2" y1="105.05" x2="458.2" y2="111.45" stroke="#111111" stroke-width="0.7"/>
<circle cx="458.2" cy="108.25" r="1.05" fill="#111111"/>
<rect x="461.07" y="119" width="3.8" height="21.9" fill="#2153b2" stroke="#1a3a7a" stroke-width="0.6"/>
<line x1="462.97" y1="126.75" x2="462.97" y2="133.15" stroke="#45a070" stroke-width="0.7"/>
<line x1="461.68" y1="129.95" x2="464.38" y2="129.95" stroke="#45a070" stroke-width="0.7"/>
<rect x="465.88" y="117.1" width="3.8" height="17.4" fill="#d0dcea" stroke="#6a809c" stroke-width="0.6"/>
<line x1="467.77" y1="122.6" x2="467.77" y2="129" stroke="#3a8a3a" stroke-width="0.7"/>
<line x1="466.48" y1="125.8" x2="469.18" y2="125.8" stroke="#3a8a3a" stroke-width="0.7"/>
<rect x="470.68" y="115.7" width="3.8" height="24.8" fill="#efa043" stroke="#9a6424" stroke-width="0.6"/>
<line x1="472.57" y1="124.9" x2="472.57" y2="131.3" stroke="#3a8a3a" stroke-width="0.7"/>
<line x1="471.28" y1="128.1" x2="473.98" y2="128.1" stroke="#3a8a3a" stroke-width="0.7"/>
<rect x="475.47" y="120.2" width="3.8" height="21.3" fill="#fcefdf" stroke="#94785a" stroke-width="0.6"/>
<line x1="477.37" y1="127.65" x2="477.37" y2="134.05" stroke="#3a8a3a" stroke-width="0.7"/>
<line x1="476.07" y1="130.85" x2="478.77" y2="130.85" stroke="#3a8a3a" stroke-width="0.7"/>
<rect x="480.25" y="91.9" width="3.8" height="24.8" fill="#2153b2" stroke="#1a3a7a" stroke-width="0.6"/>
<line x1="482.15" y1="101.1" x2="482.15" y2="107.5" stroke="#45a070" stroke-width="0.7"/>
<line x1="480.85" y1="104.3" x2="483.55" y2="104.3" stroke="#45a070" stroke-width="0.7"/>
<rect x="485.05" y="106.7" width="3.8" height="27.8" fill="#d0dcea" stroke="#6a809c" stroke-width="0.6"/>
<line x1="486.95" y1="117.4" x2="486.95" y2="123.8" stroke="#111111" stroke-width="0.7"/>
<circle cx="486.95" cy="120.6" r="1.05" fill="#111111"/>
<rect x="489.85" y="103.8" width="3.8" height="22.8" fill="#efa043" stroke="#9a6424" stroke-width="0.6"/>
<line x1="491.75" y1="112" x2="491.75" y2="118.4" stroke="#8a1c1c" stroke-width="0.7"/>
<line x1="490.45" y1="115.2" x2="493.15" y2="115.2" stroke="#8a1c1c" stroke-width="0.7"/>
<rect x="494.65" y="99.8" width="3.8" height="25.8" fill="#fcefdf" stroke="#94785a" stroke-width="0.6"/>
<line x1="496.55" y1="109.5" x2="496.55" y2="115.9" stroke="#8a1c1c" stroke-width="0.7"/>
<line x1="495.25" y1="112.7" x2="497.95" y2="112.7" stroke="#8a1c1c" stroke-width="0.7"/>
<rect x="499.43" y="107.7" width="3.8" height="26.4" fill="#2153b2" stroke="#1a3a7a" stroke-width="0.6"/>
<line x1="501.32" y1="117.7" x2="501.32" y2="124.1" stroke="#45a070" stroke-width="0.7"/>
<line x1="500.03" y1="120.9" x2="502.73" y2="120.9" stroke="#45a070" stroke-width="0.7"/>
<rect x="504.23" y="112.7" width="3.8" height="14.9" fill="#d0dcea" stroke="#6a809c" stroke-width="0.6"/>
<line x1="506.12" y1="116.95" x2="506.12" y2="123.35" stroke="#3a8a3a" stroke-width="0.7"/>
<line x1="504.83" y1="120.15" x2="507.53" y2="120.15" stroke="#3a8a3a" stroke-width="0.7"/>
<rect x="509.03" y="122.6" width="3.8" height="19.9" fill="#efa043" stroke="#9a6424" stroke-width="0.6"/>
<line x1="510.93" y1="129.35" x2="510.93" y2="135.75" stroke="#3a8a3a" stroke-width="0.7"/>
<line x1="509.63" y1="132.55" x2="512.33" y2="132.55" stroke="#3a8a3a" stroke-width="0.7"/>
<rect x="513.83" y="116.7" width="3.8" height="21.8" fill="#fcefdf" stroke="#94785a" stroke-width="0.6"/>
<line x1="515.73" y1="124.4" x2="515.73" y2="130.8" stroke="#3a8a3a" stroke-width="0.7"/>
<line x1="514.43" y1="127.6" x2="517.12" y2="127.6" stroke="#3a8a3a" stroke-width="0.7"/>
<text transform="translate(376.09,171.7) rotate(-90)" font-size="5.6" class="d">anger</text>
<text transform="translate(395.26,171.7) rotate(-90)" font-size="5.6" class="d">fear</text>
<text transform="translate(414.44,171.7) rotate(-90)" font-size="5.6" class="d">happiness</text>
<text transform="translate(433.61,171.7) rotate(-90)" font-size="5.6" class="d">pride</text>
<text transform="translate(452.79,171.7) rotate(-90)" font-size="5.6" class="d">relief</text>
<text transform="translate(471.96,171.7) rotate(-90)" font-size="5.6" class="d">sadness</text>
<text transform="translate(491.14,171.7) rotate(-90)" font-size="5.6" class="d">serenity</text>
<text transform="translate(510.31,171.7) rotate(-90)" font-size="5.6" class="d">shame</text>
<rect x="364.5" y="46.6" width="153.4" height="130.1" fill="none" stroke="#9c9c9c" stroke-width="0.9"/>
<line x1="364.05" y1="176.7" x2="518.35" y2="176.7" stroke="#999" stroke-width="0.9"/>
<line x1="517.9" y1="46.6" x2="517.9" y2="176.7" stroke="#888" stroke-width="0.9"/>
<line x1="362.9" y1="166.5" x2="364.5" y2="166.5" stroke="#555" stroke-width="0.6"/>
<text x="360.6" y="168.3" font-size="5.2" text-anchor="end" class="d">−1.5</text>
<line x1="362.9" y1="148.2" x2="364.5" y2="148.2" stroke="#555" stroke-width="0.6"/>
<text x="360.6" y="150" font-size="5.2" text-anchor="end" class="d">−1.0</text>
<line x1="362.9" y1="129.9" x2="364.5" y2="129.9" stroke="#555" stroke-width="0.6"/>
<text x="360.6" y="131.7" font-size="5.2" text-anchor="end" class="d">−0.5</text>
<line x1="362.9" y1="111.6" x2="364.5" y2="111.6" stroke="#555" stroke-width="0.6"/>
<text x="360.6" y="113.4" font-size="5.2" text-anchor="end" class="d">0</text>
<line x1="362.9" y1="93.3" x2="364.5" y2="93.3" stroke="#555" stroke-width="0.6"/>
<text x="360.6" y="95.1" font-size="5.2" text-anchor="end" class="d">0.5</text>
<line x1="362.9" y1="75" x2="364.5" y2="75" stroke="#555" stroke-width="0.6"/>
<text x="360.6" y="76.8" font-size="5.2" text-anchor="end" class="d">1.0</text>
<line x1="362.9" y1="56.7" x2="364.5" y2="56.7" stroke="#555" stroke-width="0.6"/>
<text x="360.6" y="58.5" font-size="5.2" text-anchor="end" class="d">1.5</text>
<line x1="369.4" y1="176.7" x2="369.4" y2="178" stroke="#777" stroke-width="0.5"/>
<line x1="378.9" y1="176.7" x2="378.9" y2="178" stroke="#777" stroke-width="0.5"/>
<line x1="388.57" y1="176.7" x2="388.57" y2="178" stroke="#777" stroke-width="0.5"/>
<line x1="398.07" y1="176.7" x2="398.07" y2="178" stroke="#777" stroke-width="0.5"/>
<line x1="407.75" y1="176.7" x2="407.75" y2="178" stroke="#777" stroke-width="0.5"/>
<line x1="417.25" y1="176.7" x2="417.25" y2="178" stroke="#777" stroke-width="0.5"/>
<line x1="426.92" y1="176.7" x2="426.92" y2="178" stroke="#777" stroke-width="0.5"/>
<line x1="436.42" y1="176.7" x2="436.42" y2="178" stroke="#777" stroke-width="0.5"/>
<line x1="446.1" y1="176.7" x2="446.1" y2="178" stroke="#777" stroke-width="0.5"/>
<line x1="455.6" y1="176.7" x2="455.6" y2="178" stroke="#777" stroke-width="0.5"/>
<line x1="465.27" y1="176.7" x2="465.27" y2="178" stroke="#777" stroke-width="0.5"/>
<line x1="474.77" y1="176.7" x2="474.77" y2="178" stroke="#777" stroke-width="0.5"/>
<line x1="484.45" y1="176.7" x2="484.45" y2="178" stroke="#777" stroke-width="0.5"/>
<line x1="493.95" y1="176.7" x2="493.95" y2="178" stroke="#777" stroke-width="0.5"/>
<line x1="503.62" y1="176.7" x2="503.62" y2="178" stroke="#777" stroke-width="0.5"/>
<line x1="513.12" y1="176.7" x2="513.12" y2="178" stroke="#777" stroke-width="0.5"/>
<text x="369.7" y="185.2" font-size="5.0" text-anchor="middle" fill="#d4667f" stroke="#d4667f" stroke-width="0.12">0.28</text>
<text x="378.9" y="188.9" font-size="5.0" text-anchor="middle" fill="#2a2a2a" stroke="#2a2a2a" stroke-width="0.12">2.36</text>
<text x="388.88" y="185.2" font-size="5.0" text-anchor="middle" fill="#d4667f" stroke="#d4667f" stroke-width="0.12">0.11</text>
<text x="398.07" y="188.9" font-size="5.0" text-anchor="middle" fill="#2a2a2a" stroke="#2a2a2a" stroke-width="0.12">0.49</text>
<text x="408.05" y="185.2" font-size="5.0" text-anchor="middle" fill="#7ccf7c" stroke="#7ccf7c" stroke-width="0.12">16</text>
<text x="417.25" y="188.9" font-size="5.0" text-anchor="middle" fill="#d4667f" stroke="#d4667f" stroke-width="0.12">0.24</text>
<text x="427.22" y="185.2" font-size="5.0" text-anchor="middle" fill="#2a2a2a" stroke="#2a2a2a" stroke-width="0.12">0.36</text>
<text x="436.42" y="188.9" font-size="5.0" text-anchor="middle" fill="#d4667f" stroke="#d4667f" stroke-width="0.12">0.09</text>
<text x="446.4" y="185.2" font-size="5.0" text-anchor="middle" fill="#d4667f" stroke="#d4667f" stroke-width="0.12">0.11</text>
<text x="455.6" y="188.9" font-size="5.0" text-anchor="middle" fill="#d4667f" stroke="#d4667f" stroke-width="0.12">0.07</text>
<text x="465.57" y="185.2" font-size="5.0" text-anchor="middle" fill="#d4667f" stroke="#d4667f" stroke-width="0.12">0.09</text>
<text x="474.77" y="188.9" font-size="5.0" text-anchor="middle" fill="#d4667f" stroke="#d4667f" stroke-width="0.12">0.11</text>
<text x="484.75" y="185.2" font-size="5.0" text-anchor="middle" fill="#7ccf7c" stroke="#7ccf7c" stroke-width="0.12">607</text>
<text x="493.95" y="188.9" font-size="5.0" text-anchor="middle" fill="#d4667f" stroke="#d4667f" stroke-width="0.12">0.11</text>
<text x="503.93" y="185.2" font-size="5.0" text-anchor="middle" fill="#d4667f" stroke="#d4667f" stroke-width="0.12">0.07</text>
<text x="513.12" y="188.9" font-size="5.0" text-anchor="middle" fill="#d4667f" stroke="#d4667f" stroke-width="0.12">0.17</text>
<text x="90.05" y="198.3" font-size="7.9" text-anchor="middle" class="n" stroke="#111" stroke-width="0.1">urgency</text>
<text x="90.05" y="206.5" font-size="6.2" text-anchor="middle" class="d">Did the event require the speaker to respond urgently?</text>
<rect x="13.3" y="209.5" width="19.19" height="65.3" fill="#d9d9d9"/>
<rect x="32.49" y="209.5" width="19.19" height="65.3" fill="#d9d9d9"/>
<rect x="51.67" y="274.8" width="19.19" height="64.8" fill="#d9d9d9"/>
<rect x="90.05" y="274.8" width="19.19" height="64.8" fill="#d9d9d9"/>
<rect x="109.24" y="274.8" width="19.19" height="64.8" fill="#d9d9d9"/>
<rect x="128.43" y="274.8" width="19.19" height="64.8" fill="#d9d9d9"/>
<line x1="13.3" y1="274.8" x2="166.8" y2="274.8" stroke="#8a8a8a" stroke-width="0.8"/>
<line x1="32.49" y1="209.5" x2="32.49" y2="339.6" stroke="#969696" stroke-width="1.0"/>
<line x1="51.67" y1="209.5" x2="51.67" y2="339.6" stroke="#969696" stroke-width="1.0"/>
<line x1="70.86" y1="209.5" x2="70.86" y2="339.6" stroke="#969696" stroke-width="1.0"/>
<line x1="90.05" y1="209.5" x2="90.05" y2="339.6" stroke="#969696" stroke-width="1.0"/>
<line x1="109.24" y1="209.5" x2="109.24" y2="339.6" stroke="#969696" stroke-width="1.0"/>
<line x1="128.43" y1="209.5" x2="128.43" y2="339.6" stroke="#969696" stroke-width="1.0"/>
<line x1="147.61" y1="209.5" x2="147.61" y2="339.6" stroke="#969696" stroke-width="1.0"/>
<rect x="14" y="240.5" width="3.8" height="16.6" fill="#2153b2" stroke="#1a3a7a" stroke-width="0.6"/>
<line x1="15.9" y1="245.6" x2="15.9" y2="252" stroke="#45a070" stroke-width="0.7"/>
<line x1="14.6" y1="248.8" x2="17.3" y2="248.8" stroke="#45a070" stroke-width="0.7"/>
<rect x="18.8" y="245.6" width="3.8" height="17.4" fill="#d0dcea" stroke="#6a809c" stroke-width="0.6"/>
<line x1="20.7" y1="251.1" x2="20.7" y2="257.5" stroke="#3a8a3a" stroke-width="0.7"/>
<line x1="19.4" y1="254.3" x2="22.1" y2="254.3" stroke="#3a8a3a" stroke-width="0.7"/>
<rect x="23.6" y="233.4" width="3.8" height="18.6" fill="#efa043" stroke="#9a6424" stroke-width="0.6"/>
<line x1="25.5" y1="239.5" x2="25.5" y2="245.9" stroke="#3a8a3a" stroke-width="0.7"/>
<line x1="24.2" y1="242.7" x2="26.9" y2="242.7" stroke="#3a8a3a" stroke-width="0.7"/>
<rect x="28.4" y="230.8" width="3.8" height="13.5" fill="#fcefdf" stroke="#94785a" stroke-width="0.6"/>
<line x1="30.3" y1="234.35" x2="30.3" y2="240.75" stroke="#3a8a3a" stroke-width="0.7"/>
<line x1="29" y1="237.55" x2="31.7" y2="237.55" stroke="#3a8a3a" stroke-width="0.7"/>
<rect x="33.19" y="237.4" width="3.8" height="18.4" fill="#2153b2" stroke="#1a3a7a" stroke-width="0.6"/>
<line x1="35.09" y1="243.4" x2="35.09" y2="249.8" stroke="#45a070" stroke-width="0.7"/>
<line x1="33.79" y1="246.6" x2="36.49" y2="246.6" stroke="#45a070" stroke-width="0.7"/>
<rect x="37.99" y="247.7" width="3.8" height="22.1" fill="#d0dcea" stroke="#6a809c" stroke-width="0.6"/>
<line x1="39.89" y1="255.55" x2="39.89" y2="261.95" stroke="#3a8a3a" stroke-width="0.7"/>
<line x1="38.59" y1="258.75" x2="41.29" y2="258.75" stroke="#3a8a3a" stroke-width="0.7"/>
<rect x="42.79" y="234.1" width="3.8" height="23" fill="#efa043" stroke="#9a6424" stroke-width="0.6"/>
<line x1="44.69" y1="242.4" x2="44.69" y2="248.8" stroke="#3a8a3a" stroke-width="0.7"/>
<line x1="43.39" y1="245.6" x2="46.09" y2="245.6" stroke="#3a8a3a" stroke-width="0.7"/>
<rect x="47.59" y="229" width="3.8" height="23.8" fill="#fcefdf" stroke="#94785a" stroke-width="0.6"/>
<line x1="49.49" y1="237.7" x2="49.49" y2="244.1" stroke="#3a8a3a" stroke-width="0.7"/>
<line x1="48.19" y1="240.9" x2="50.89" y2="240.9" stroke="#3a8a3a" stroke-width="0.7"/>
<rect x="52.38" y="269.1" width="3.8" height="21.9" fill="#2153b2" stroke="#1a3a7a" stroke-width="0.6"/>
<line x1="54.27" y1="276.85" x2="54.27" y2="283.25" stroke="#45a070" stroke-width="0.7"/>
<line x1="52.98" y1="280.05" x2="55.67" y2="280.05" stroke="#45a070" stroke-width="0.7"/>
<rect x="57.17" y="264.7" width="3.8" height="7.7" fill="#d0dcea" stroke="#6a809c" stroke-width="0.6"/>
<line x1="59.07" y1="265.5" x2="59.07" y2="271.6" stroke="#8a1c1c" stroke-width="0.7"/>
<line x1="57.77" y1="268.55" x2="60.47" y2="268.55" stroke="#8a1c1c" stroke-width="0.7"/>
<rect x="61.98" y="254.5" width="3.8" height="21.7" fill="#efa043" stroke="#9a6424" stroke-width="0.6"/>
<line x1="63.88" y1="262.15" x2="63.88" y2="268.55" stroke="#8a1c1c" stroke-width="0.7"/>
<line x1="62.58" y1="265.35" x2="65.28" y2="265.35" stroke="#8a1c1c" stroke-width="0.7"/>
<rect x="66.78" y="257.1" width="3.8" height="22.9" fill="#fcefdf" stroke="#94785a" stroke-width="0.6"/>
<line x1="68.68" y1="265.35" x2="68.68" y2="271.75" stroke="#8a1c1c" stroke-width="0.7"/>
<line x1="67.38" y1="268.55" x2="70.08" y2="268.55" stroke="#8a1c1c" stroke-width="0.7"/>
<rect x="71.56" y="280.8" width="3.8" height="18.4" fill="#2153b2" stroke="#1a3a7a" stroke-width="0.6"/>
<line x1="73.46" y1="286.8" x2="73.46" y2="293.2" stroke="#45a070" stroke-width="0.7"/>
<line x1="72.16" y1="290" x2="74.86" y2="290" stroke="#45a070" stroke-width="0.7"/>
<rect x="76.36" y="275" width="3.8" height="12.7" fill="#d0dcea" stroke="#6a809c" stroke-width="0.6"/>
<line x1="78.26" y1="278.15" x2="78.26" y2="284.55" stroke="#3a8a3a" stroke-width="0.7"/>
<line x1="76.96" y1="281.35" x2="79.66" y2="281.35" stroke="#3a8a3a" stroke-width="0.7"/>
<rect x="81.16" y="273.7" width="3.8" height="11.5" fill="#efa043" stroke="#9a6424" stroke-width="0.6"/>
<line x1="83.06" y1="276.25" x2="83.06" y2="282.65" stroke="#3a8a3a" stroke-width="0.7"/>
<line x1="81.76" y1="279.45" x2="84.46" y2="279.45" stroke="#3a8a3a" stroke-width="0.7"/>
<rect x="85.96" y="276.2" width="3.8" height="15.3" fill="#fcefdf" stroke="#94785a" stroke-width="0.6"/>
<line x1="87.86" y1="280.65" x2="87.86" y2="287.05" stroke="#3a8a3a" stroke-width="0.7"/>
<line x1="86.56" y1="283.85" x2="89.26" y2="283.85" stroke="#3a8a3a" stroke-width="0.7"/>
<rect x="90.75" y="272.2" width="3.8" height="18.5" fill="#2153b2" stroke="#1a3a7a" stroke-width="0.6"/>
<line x1="92.65" y1="278.25" x2="92.65" y2="284.65" stroke="#45a070" stroke-width="0.7"/>
<line x1="91.35" y1="281.45" x2="94.05" y2="281.45" stroke="#45a070" stroke-width="0.7"/>
<rect x="95.55" y="270.2" width="3.8" height="14.5" fill="#d0dcea" stroke="#6a809c" stroke-width="0.6"/>
<line x1="97.45" y1="274.25" x2="97.45" y2="280.65" stroke="#111111" stroke-width="0.7"/>
<circle cx="97.45" cy="277.45" r="1.05" fill="#111111"/>
<rect x="100.35" y="273.4" width="3.8" height="17.3" fill="#efa043" stroke="#9a6424" stroke-width="0.6"/>
<line x1="102.25" y1="278.85" x2="102.25" y2="285.25" stroke="#3a8a3a" stroke-width="0.7"/>
<line x1="100.95" y1="282.05" x2="103.65" y2="282.05" stroke="#3a8a3a" stroke-width="0.7"/>
<rect x="105.15" y="276.8" width="3.8" height="18.4" fill="#fcefdf" stroke="#94785a" stroke-width="0.6"/>
<line x1="107.05" y1="282.8" x2="107.05" y2="289.2" stroke="#3a8a3a" stroke-width="0.7"/>
<line x1="105.75" y1="286" x2="108.45" y2="286" stroke="#3a8a3a" stroke-width="0.7"/>
<rect x="109.94" y="264.9" width="3.8" height="25.8" fill="#2153b2" stroke="#1a3a7a" stroke-width="0.6"/>
<line x1="111.84" y1="274.6" x2="111.84" y2="281" stroke="#45a070" stroke-width="0.7"/>
<line x1="110.54" y1="277.8" x2="113.24" y2="277.8" stroke="#45a070" stroke-width="0.7"/>
<rect x="114.74" y="275.4" width="3.8" height="21.2" fill="#d0dcea" stroke="#6a809c" stroke-width="0.6"/>
<line x1="116.64" y1="282.8" x2="116.64" y2="289.2" stroke="#3a8a3a" stroke-width="0.7"/>
<line x1="115.34" y1="286" x2="118.04" y2="286" stroke="#3a8a3a" stroke-width="0.7"/>
<rect x="119.54" y="266.3" width="3.8" height="27.7" fill="#efa043" stroke="#9a6424" stroke-width="0.6"/>
<line x1="121.44" y1="276.95" x2="121.44" y2="283.35" stroke="#111111" stroke-width="0.7"/>
<circle cx="121.44" cy="280.15" r="1.05" fill="#111111"/>
<rect x="124.34" y="262.3" width="3.8" height="23" fill="#fcefdf" stroke="#94785a" stroke-width="0.6"/>
<line x1="126.24" y1="270.6" x2="126.24" y2="277" stroke="#8a1c1c" stroke-width="0.7"/>
<line x1="124.94" y1="273.8" x2="127.64" y2="273.8" stroke="#8a1c1c" stroke-width="0.7"/>
<rect x="129.12" y="292.1" width="3.8" height="17.4" fill="#2153b2" stroke="#1a3a7a" stroke-width="0.6"/>
<line x1="131.03" y1="297.6" x2="131.03" y2="304" stroke="#45a070" stroke-width="0.7"/>
<line x1="129.72" y1="300.8" x2="132.43" y2="300.8" stroke="#45a070" stroke-width="0.7"/>
<rect x="133.93" y="291.3" width="3.8" height="12.7" fill="#d0dcea" stroke="#6a809c" stroke-width="0.6"/>
<line x1="135.83" y1="294.45" x2="135.83" y2="300.85" stroke="#3a8a3a" stroke-width="0.7"/>
<line x1="134.53" y1="297.65" x2="137.23" y2="297.65" stroke="#3a8a3a" stroke-width="0.7"/>
<rect x="138.72" y="289.3" width="3.8" height="14.7" fill="#efa043" stroke="#9a6424" stroke-width="0.6"/>
<line x1="140.62" y1="293.45" x2="140.62" y2="299.85" stroke="#3a8a3a" stroke-width="0.7"/>
<line x1="139.32" y1="296.65" x2="142.03" y2="296.65" stroke="#3a8a3a" stroke-width="0.7"/>
<rect x="143.53" y="289.7" width="3.8" height="18.8" fill="#fcefdf" stroke="#94785a" stroke-width="0.6"/>
<line x1="145.43" y1="295.9" x2="145.43" y2="302.3" stroke="#3a8a3a" stroke-width="0.7"/>
<line x1="144.12" y1="299.1" x2="146.83" y2="299.1" stroke="#3a8a3a" stroke-width="0.7"/>
<rect x="148.31" y="278.2" width="3.8" height="20.4" fill="#2153b2" stroke="#1a3a7a" stroke-width="0.6"/>
<line x1="150.21" y1="285.2" x2="150.21" y2="291.6" stroke="#45a070" stroke-width="0.7"/>
<line x1="148.91" y1="288.4" x2="151.61" y2="288.4" stroke="#45a070" stroke-width="0.7"/>
<rect x="153.11" y="279.8" width="3.8" height="9.9" fill="#d0dcea" stroke="#6a809c" stroke-width="0.6"/>
<line x1="155.01" y1="281.55" x2="155.01" y2="287.95" stroke="#3a8a3a" stroke-width="0.7"/>
<line x1="153.71" y1="284.75" x2="156.41" y2="284.75" stroke="#3a8a3a" stroke-width="0.7"/>
<rect x="157.91" y="284.7" width="3.8" height="17.9" fill="#efa043" stroke="#9a6424" stroke-width="0.6"/>
<line x1="159.81" y1="290.45" x2="159.81" y2="296.85" stroke="#3a8a3a" stroke-width="0.7"/>
<line x1="158.51" y1="293.65" x2="161.21" y2="293.65" stroke="#3a8a3a" stroke-width="0.7"/>
<rect x="162.71" y="276.2" width="3.8" height="20.4" fill="#fcefdf" stroke="#94785a" stroke-width="0.6"/>
<line x1="164.61" y1="283.2" x2="164.61" y2="289.6" stroke="#3a8a3a" stroke-width="0.7"/>
<line x1="163.31" y1="286.4" x2="166.01" y2="286.4" stroke="#3a8a3a" stroke-width="0.7"/>
<text transform="translate(24.89,334.6) rotate(-90)" font-size="5.6" class="d">anger</text>
<text transform="translate(44.08,334.6) rotate(-90)" font-size="5.6" class="d">fear</text>
<text transform="translate(63.27,334.6) rotate(-90)" font-size="5.6" class="d">happiness</text>
<text transform="translate(82.46,334.6) rotate(-90)" font-size="5.6" class="d">pride</text>
<text transform="translate(101.64,334.6) rotate(-90)" font-size="5.6" class="d">relief</text>
<text transform="translate(120.83,334.6) rotate(-90)" font-size="5.6" class="d">sadness</text>
<text transform="translate(140.02,334.6) rotate(-90)" font-size="5.6" class="d">serenity</text>
<text transform="translate(159.21,334.6) rotate(-90)" font-size="5.6" class="d">shame</text>
<rect x="13.3" y="209.5" width="153.5" height="130.1" fill="none" stroke="#9c9c9c" stroke-width="0.9"/>
<line x1="12.85" y1="339.6" x2="167.25" y2="339.6" stroke="#999" stroke-width="0.9"/>
<line x1="166.8" y1="209.5" x2="166.8" y2="339.6" stroke="#888" stroke-width="0.9"/>
<line x1="11.7" y1="329.7" x2="13.3" y2="329.7" stroke="#555" stroke-width="0.6"/>
<text x="9.4" y="331.5" font-size="5.2" text-anchor="end" class="d">−1.5</text>
<line x1="11.7" y1="311.4" x2="13.3" y2="311.4" stroke="#555" stroke-width="0.6"/>
<text x="9.4" y="313.2" font-size="5.2" text-anchor="end" class="d">−1.0</text>
<line x1="11.7" y1="293.1" x2="13.3" y2="293.1" stroke="#555" stroke-width="0.6"/>
<text x="9.4" y="294.9" font-size="5.2" text-anchor="end" class="d">−0.5</text>
<line x1="11.7" y1="274.8" x2="13.3" y2="274.8" stroke="#555" stroke-width="0.6"/>
<text x="9.4" y="276.6" font-size="5.2" text-anchor="end" class="d">0</text>
<line x1="11.7" y1="256.5" x2="13.3" y2="256.5" stroke="#555" stroke-width="0.6"/>
<text x="9.4" y="258.3" font-size="5.2" text-anchor="end" class="d">0.5</text>
<line x1="11.7" y1="238.2" x2="13.3" y2="238.2" stroke="#555" stroke-width="0.6"/>
<text x="9.4" y="240" font-size="5.2" text-anchor="end" class="d">1.0</text>
<line x1="11.7" y1="219.9" x2="13.3" y2="219.9" stroke="#555" stroke-width="0.6"/>
<text x="9.4" y="221.7" font-size="5.2" text-anchor="end" class="d">1.5</text>
<line x1="18.2" y1="339.6" x2="18.2" y2="340.9" stroke="#777" stroke-width="0.5"/>
<line x1="27.7" y1="339.6" x2="27.7" y2="340.9" stroke="#777" stroke-width="0.5"/>
<line x1="37.39" y1="339.6" x2="37.39" y2="340.9" stroke="#777" stroke-width="0.5"/>
<line x1="46.89" y1="339.6" x2="46.89" y2="340.9" stroke="#777" stroke-width="0.5"/>
<line x1="56.57" y1="339.6" x2="56.57" y2="340.9" stroke="#777" stroke-width="0.5"/>
<line x1="66.08" y1="339.6" x2="66.08" y2="340.9" stroke="#777" stroke-width="0.5"/>
<line x1="75.76" y1="339.6" x2="75.76" y2="340.9" stroke="#777" stroke-width="0.5"/>
<line x1="85.26" y1="339.6" x2="85.26" y2="340.9" stroke="#777" stroke-width="0.5"/>
<line x1="94.95" y1="339.6" x2="94.95" y2="340.9" stroke="#777" stroke-width="0.5"/>
<line x1="104.45" y1="339.6" x2="104.45" y2="340.9" stroke="#777" stroke-width="0.5"/>
<line x1="114.14" y1="339.6" x2="114.14" y2="340.9" stroke="#777" stroke-width="0.5"/>
<line x1="123.64" y1="339.6" x2="123.64" y2="340.9" stroke="#777" stroke-width="0.5"/>
<line x1="133.33" y1="339.6" x2="133.33" y2="340.9" stroke="#777" stroke-width="0.5"/>
<line x1="142.83" y1="339.6" x2="142.83" y2="340.9" stroke="#777" stroke-width="0.5"/>
<line x1="152.51" y1="339.6" x2="152.51" y2="340.9" stroke="#777" stroke-width="0.5"/>
<line x1="162.01" y1="339.6" x2="162.01" y2="340.9" stroke="#777" stroke-width="0.5"/>
<text x="18.5" y="348.1" font-size="5.0" text-anchor="middle" fill="#d4667f" stroke="#d4667f" stroke-width="0.12">0.26</text>
<text x="27.7" y="351.8" font-size="5.0" text-anchor="middle" fill="#d4667f" stroke="#d4667f" stroke-width="0.12">0.11</text>
<text x="37.69" y="348.1" font-size="5.0" text-anchor="middle" fill="#7ccf7c" stroke="#7ccf7c" stroke-width="0.12">69</text>
<text x="46.89" y="351.8" font-size="5.0" text-anchor="middle" fill="#d4667f" stroke="#d4667f" stroke-width="0.12">0.14</text>
<text x="56.88" y="348.1" font-size="5.0" text-anchor="middle" fill="#7ccf7c" stroke="#7ccf7c" stroke-width="0.12">26</text>
<text x="66.08" y="351.8" font-size="5.0" text-anchor="middle" fill="#d4667f" stroke="#d4667f" stroke-width="0.12">0.26</text>
<text x="76.06" y="348.1" font-size="5.0" text-anchor="middle" fill="#7ccf7c" stroke="#7ccf7c" stroke-width="0.12">21</text>
<text x="85.26" y="351.8" font-size="5.0" text-anchor="middle" fill="#d4667f" stroke="#d4667f" stroke-width="0.12">0.18</text>
<text x="95.25" y="348.1" font-size="5.0" text-anchor="middle" fill="#d4667f" stroke="#d4667f" stroke-width="0.12">0.30</text>
<text x="104.45" y="351.8" font-size="5.0" text-anchor="middle" fill="#2a2a2a" stroke="#2a2a2a" stroke-width="0.12">1.09</text>
<text x="114.44" y="348.1" font-size="5.0" text-anchor="middle" fill="#7ccf7c" stroke="#7ccf7c" stroke-width="0.12">1.38</text>
<text x="123.64" y="351.8" font-size="5.0" text-anchor="middle" fill="#2a2a2a" stroke="#2a2a2a" stroke-width="0.12">1.07</text>
<text x="133.62" y="348.1" font-size="5.0" text-anchor="middle" fill="#d4667f" stroke="#d4667f" stroke-width="0.12">0.10</text>
<text x="142.83" y="351.8" font-size="5.0" text-anchor="middle" fill="#d4667f" stroke="#d4667f" stroke-width="0.12">0.16</text>
<text x="152.81" y="348.1" font-size="5.0" text-anchor="middle" fill="#d4667f" stroke="#d4667f" stroke-width="0.12">0.07</text>
<text x="162.01" y="351.8" font-size="5.0" text-anchor="middle" fill="#2a2a2a" stroke="#2a2a2a" stroke-width="0.12">1.41</text>
<text x="266.35" y="198.3" font-size="7.9" text-anchor="middle" class="n" stroke="#111" stroke-width="0.1">power</text>
<text x="266.35" y="206.5" font-size="6.2" text-anchor="middle" class="d">Could the outcome of the event be modified by the speaker’s actions?</text>
<rect x="189.6" y="209.5" width="19.19" height="65.3" fill="#d9d9d9"/>
<rect x="208.79" y="274.8" width="19.19" height="64.8" fill="#d9d9d9"/>
<rect x="227.97" y="209.5" width="19.19" height="65.3" fill="#d9d9d9"/>
<rect x="247.16" y="209.5" width="19.19" height="65.3" fill="#d9d9d9"/>
<rect x="285.54" y="274.8" width="19.19" height="64.8" fill="#d9d9d9"/>
<rect x="323.91" y="274.8" width="19.19" height="64.8" fill="#d9d9d9"/>
<line x1="189.6" y1="274.8" x2="343.1" y2="274.8" stroke="#8a8a8a" stroke-width="0.8"/>
<line x1="208.79" y1="209.5" x2="208.79" y2="339.6" stroke="#969696" stroke-width="1.0"/>
<line x1="227.97" y1="209.5" x2="227.97" y2="339.6" stroke="#969696" stroke-width="1.0"/>
<line x1="247.16" y1="209.5" x2="247.16" y2="339.6" stroke="#969696" stroke-width="1.0"/>
<line x1="266.35" y1="209.5" x2="266.35" y2="339.6" stroke="#969696" stroke-width="1.0"/>
<line x1="285.54" y1="209.5" x2="285.54" y2="339.6" stroke="#969696" stroke-width="1.0"/>
<line x1="304.73" y1="209.5" x2="304.73" y2="339.6" stroke="#969696" stroke-width="1.0"/>
<line x1="323.91" y1="209.5" x2="323.91" y2="339.6" stroke="#969696" stroke-width="1.0"/>
<rect x="190.3" y="245.8" width="3.8" height="23.7" fill="#2153b2" stroke="#1a3a7a" stroke-width="0.6"/>
<line x1="192.2" y1="254.45" x2="192.2" y2="260.85" stroke="#45a070" stroke-width="0.7"/>
<line x1="190.9" y1="257.65" x2="193.6" y2="257.65" stroke="#45a070" stroke-width="0.7"/>
<rect x="195.1" y="252.4" width="3.8" height="12" fill="#d0dcea" stroke="#6a809c" stroke-width="0.6"/>
<line x1="197" y1="255.2" x2="197" y2="261.6" stroke="#3a8a3a" stroke-width="0.7"/>
<line x1="195.7" y1="258.4" x2="198.4" y2="258.4" stroke="#3a8a3a" stroke-width="0.7"/>
<rect x="199.9" y="239.7" width="3.8" height="40" fill="#efa043" stroke="#9a6424" stroke-width="0.6"/>
<line x1="201.8" y1="256.5" x2="201.8" y2="262.9" stroke="#3a8a3a" stroke-width="0.7"/>
<line x1="200.5" y1="259.7" x2="203.2" y2="259.7" stroke="#3a8a3a" stroke-width="0.7"/>
<rect x="204.7" y="242.8" width="3.8" height="20.4" fill="#fcefdf" stroke="#94785a" stroke-width="0.6"/>
<line x1="206.6" y1="249.8" x2="206.6" y2="256.2" stroke="#3a8a3a" stroke-width="0.7"/>
<line x1="205.3" y1="253" x2="208" y2="253" stroke="#3a8a3a" stroke-width="0.7"/>
<rect x="209.49" y="273.4" width="3.8" height="31.9" fill="#2153b2" stroke="#1a3a7a" stroke-width="0.6"/>
<line x1="211.39" y1="286.15" x2="211.39" y2="292.55" stroke="#45a070" stroke-width="0.7"/>
<line x1="210.09" y1="289.35" x2="212.79" y2="289.35" stroke="#45a070" stroke-width="0.7"/>
<rect x="214.29" y="265.7" width="3.8" height="23" fill="#d0dcea" stroke="#6a809c" stroke-width="0.6"/>
<line x1="216.19" y1="274" x2="216.19" y2="280.4" stroke="#111111" stroke-width="0.7"/>
<circle cx="216.19" cy="277.2" r="1.05" fill="#111111"/>
<rect x="219.09" y="260.6" width="3.8" height="31.9" fill="#efa043" stroke="#9a6424" stroke-width="0.6"/>
<line x1="220.99" y1="273.35" x2="220.99" y2="279.75" stroke="#8a1c1c" stroke-width="0.7"/>
<line x1="219.69" y1="276.55" x2="222.39" y2="276.55" stroke="#8a1c1c" stroke-width="0.7"/>
<rect x="223.89" y="269.5" width="3.8" height="25.5" fill="#fcefdf" stroke="#94785a" stroke-width="0.6"/>
<line x1="225.79" y1="279.05" x2="225.79" y2="285.45" stroke="#3a8a3a" stroke-width="0.7"/>
<line x1="224.49" y1="282.25" x2="227.19" y2="282.25" stroke="#3a8a3a" stroke-width="0.7"/>
<rect x="228.67" y="249.1" width="3.8" height="26.8" fill="#2153b2" stroke="#1a3a7a" stroke-width="0.6"/>
<line x1="230.57" y1="259.3" x2="230.57" y2="265.7" stroke="#45a070" stroke-width="0.7"/>
<line x1="229.27" y1="262.5" x2="231.97" y2="262.5" stroke="#45a070" stroke-width="0.7"/>
<rect x="233.47" y="255.5" width="3.8" height="16.6" fill="#d0dcea" stroke="#6a809c" stroke-width="0.6"/>
<line x1="235.38" y1="260.6" x2="235.38" y2="267" stroke="#3a8a3a" stroke-width="0.7"/>
<line x1="234.07" y1="263.8" x2="236.78" y2="263.8" stroke="#3a8a3a" stroke-width="0.7"/>
<rect x="238.27" y="244.8" width="3.8" height="29.8" fill="#efa043" stroke="#9a6424" stroke-width="0.6"/>
<line x1="240.17" y1="256.5" x2="240.17" y2="262.9" stroke="#3a8a3a" stroke-width="0.7"/>
<line x1="238.87" y1="259.7" x2="241.57" y2="259.7" stroke="#3a8a3a" stroke-width="0.7"/>
<rect x="243.07" y="258.6" width="3.8" height="21.1" fill="#fcefdf" stroke="#94785a" stroke-width="0.6"/>
<line x1="244.97" y1="265.95" x2="244.97" y2="272.35" stroke="#3a8a3a" stroke-width="0.7"/>
<line x1="243.67" y1="269.15" x2="246.38" y2="269.15" stroke="#3a8a3a" stroke-width="0.7"/>
<rect x="247.86" y="249.9" width="3.8" height="26.5" fill="#2153b2" stroke="#1a3a7a" stroke-width="0.6"/>
<line x1="249.76" y1="259.95" x2="249.76" y2="266.35" stroke="#45a070" stroke-width="0.7"/>
<line x1="248.46" y1="263.15" x2="251.16" y2="263.15" stroke="#45a070" stroke-width="0.7"/>
<rect x="252.66" y="254.2" width="3.8" height="21.2" fill="#d0dcea" stroke="#6a809c" stroke-width="0.6"/>
<line x1="254.56" y1="261.6" x2="254.56" y2="268" stroke="#3a8a3a" stroke-width="0.7"/>
<line x1="253.26" y1="264.8" x2="255.96" y2="264.8" stroke="#3a8a3a" stroke-width="0.7"/>
<rect x="257.46" y="255.5" width="3.8" height="21.7" fill="#efa043" stroke="#9a6424" stroke-width="0.6"/>
<line x1="259.36" y1="263.15" x2="259.36" y2="269.55" stroke="#3a8a3a" stroke-width="0.7"/>
<line x1="258.06" y1="266.35" x2="260.76" y2="266.35" stroke="#3a8a3a" stroke-width="0.7"/>
<rect x="262.26" y="250.4" width="3.8" height="17.4" fill="#fcefdf" stroke="#94785a" stroke-width="0.6"/>
<line x1="264.16" y1="255.9" x2="264.16" y2="262.3" stroke="#3a8a3a" stroke-width="0.7"/>
<line x1="262.86" y1="259.1" x2="265.56" y2="259.1" stroke="#3a8a3a" stroke-width="0.7"/>
<rect x="267.05" y="258.9" width="3.8" height="20.8" fill="#2153b2" stroke="#1a3a7a" stroke-width="0.6"/>
<line x1="268.95" y1="266.1" x2="268.95" y2="272.5" stroke="#45a070" stroke-width="0.7"/>
<line x1="267.65" y1="269.3" x2="270.35" y2="269.3" stroke="#45a070" stroke-width="0.7"/>
<rect x="271.85" y="262.5" width="3.8" height="17.8" fill="#d0dcea" stroke="#6a809c" stroke-width="0.6"/>
<line x1="273.75" y1="268.2" x2="273.75" y2="274.6" stroke="#8a1c1c" stroke-width="0.7"/>
<line x1="272.45" y1="271.4" x2="275.15" y2="271.4" stroke="#8a1c1c" stroke-width="0.7"/>
<rect x="276.65" y="264.4" width="3.8" height="14.3" fill="#efa043" stroke="#9a6424" stroke-width="0.6"/>
<line x1="278.55" y1="268.35" x2="278.55" y2="274.75" stroke="#8a1c1c" stroke-width="0.7"/>
<line x1="277.25" y1="271.55" x2="279.95" y2="271.55" stroke="#8a1c1c" stroke-width="0.7"/>
<rect x="281.45" y="267.8" width="3.8" height="18.9" fill="#fcefdf" stroke="#94785a" stroke-width="0.6"/>
<line x1="283.35" y1="274.05" x2="283.35" y2="280.45" stroke="#111111" stroke-width="0.7"/>
<circle cx="283.35" cy="277.25" r="1.05" fill="#111111"/>
<rect x="286.24" y="287.7" width="3.8" height="21.8" fill="#2153b2" stroke="#1a3a7a" stroke-width="0.6"/>
<line x1="288.14" y1="295.4" x2="288.14" y2="301.8" stroke="#45a070" stroke-width="0.7"/>
<line x1="286.84" y1="298.6" x2="289.54" y2="298.6" stroke="#45a070" stroke-width="0.7"/>
<rect x="291.04" y="280.7" width="3.8" height="21.8" fill="#d0dcea" stroke="#6a809c" stroke-width="0.6"/>
<line x1="292.94" y1="288.4" x2="292.94" y2="294.8" stroke="#3a8a3a" stroke-width="0.7"/>
<line x1="291.64" y1="291.6" x2="294.34" y2="291.6" stroke="#3a8a3a" stroke-width="0.7"/>
<rect x="295.84" y="278.3" width="3.8" height="21.3" fill="#efa043" stroke="#9a6424" stroke-width="0.6"/>
<line x1="297.74" y1="285.75" x2="297.74" y2="292.15" stroke="#3a8a3a" stroke-width="0.7"/>
<line x1="296.44" y1="288.95" x2="299.14" y2="288.95" stroke="#3a8a3a" stroke-width="0.7"/>
<rect x="300.64" y="274.8" width="3.8" height="29.3" fill="#fcefdf" stroke="#94785a" stroke-width="0.6"/>
<line x1="302.54" y1="286.25" x2="302.54" y2="292.65" stroke="#3a8a3a" stroke-width="0.7"/>
<line x1="301.24" y1="289.45" x2="303.94" y2="289.45" stroke="#3a8a3a" stroke-width="0.7"/>
<rect x="305.43" y="259.9" width="3.8" height="23.8" fill="#2153b2" stroke="#1a3a7a" stroke-width="0.6"/>
<line x1="307.32" y1="268.6" x2="307.32" y2="275" stroke="#45a070" stroke-width="0.7"/>
<line x1="306.03" y1="271.8" x2="308.73" y2="271.8" stroke="#45a070" stroke-width="0.7"/>
<rect x="310.23" y="264.4" width="3.8" height="28.6" fill="#d0dcea" stroke="#6a809c" stroke-width="0.6"/>
<line x1="312.12" y1="275.5" x2="312.12" y2="281.9" stroke="#111111" stroke-width="0.7"/>
<circle cx="312.12" cy="278.7" r="1.05" fill="#111111"/>
<rect x="315.03" y="269.2" width="3.8" height="21" fill="#efa043" stroke="#9a6424" stroke-width="0.6"/>
<line x1="316.93" y1="276.5" x2="316.93" y2="282.9" stroke="#111111" stroke-width="0.7"/>
<circle cx="316.93" cy="279.7" r="1.05" fill="#111111"/>
<rect x="319.82" y="266.8" width="3.8" height="24.2" fill="#fcefdf" stroke="#94785a" stroke-width="0.6"/>
<line x1="321.72" y1="275.7" x2="321.72" y2="282.1" stroke="#111111" stroke-width="0.7"/>
<circle cx="321.72" cy="278.9" r="1.05" fill="#111111"/>
<rect x="324.61" y="263.8" width="3.8" height="24.9" fill="#2153b2" stroke="#1a3a7a" stroke-width="0.6"/>
<line x1="326.51" y1="273.05" x2="326.51" y2="279.45" stroke="#8a1c1c" stroke-width="0.7"/>
<line x1="325.21" y1="276.25" x2="327.91" y2="276.25" stroke="#8a1c1c" stroke-width="0.7"/>
<rect x="329.41" y="271.8" width="3.8" height="20.8" fill="#d0dcea" stroke="#6a809c" stroke-width="0.6"/>
<line x1="331.31" y1="279" x2="331.31" y2="285.4" stroke="#3a8a3a" stroke-width="0.7"/>
<line x1="330.01" y1="282.2" x2="332.71" y2="282.2" stroke="#3a8a3a" stroke-width="0.7"/>
<rect x="334.21" y="276.7" width="3.8" height="24.8" fill="#efa043" stroke="#9a6424" stroke-width="0.6"/>
<line x1="336.11" y1="285.9" x2="336.11" y2="292.3" stroke="#3a8a3a" stroke-width="0.7"/>
<line x1="334.81" y1="289.1" x2="337.51" y2="289.1" stroke="#3a8a3a" stroke-width="0.7"/>
<rect x="339.01" y="273.8" width="3.8" height="21.8" fill="#fcefdf" stroke="#94785a" stroke-width="0.6"/>
<line x1="340.91" y1="281.5" x2="340.91" y2="287.9" stroke="#3a8a3a" stroke-width="0.7"/>
<line x1="339.61" y1="284.7" x2="342.31" y2="284.7" stroke="#3a8a3a" stroke-width="0.7"/>
<text transform="translate(201.19,334.6) rotate(-90)" font-size="5.6" class="d">anger</text>
<text transform="translate(220.38,334.6) rotate(-90)" font-size="5.6" class="d">fear</text>
<text transform="translate(239.57,334.6) rotate(-90)" font-size="5.6" class="d">happiness</text>
<text transform="translate(258.76,334.6) rotate(-90)" font-size="5.6" class="d">pride</text>
<text transform="translate(277.94,334.6) rotate(-90)" font-size="5.6" class="d">relief</text>
<text transform="translate(297.13,334.6) rotate(-90)" font-size="5.6" class="d">sadness</text>
<text transform="translate(316.32,334.6) rotate(-90)" font-size="5.6" class="d">serenity</text>
<text transform="translate(335.51,334.6) rotate(-90)" font-size="5.6" class="d">shame</text>
<rect x="189.6" y="209.5" width="153.5" height="130.1" fill="none" stroke="#9c9c9c" stroke-width="0.9"/>
<line x1="189.15" y1="339.6" x2="343.55" y2="339.6" stroke="#999" stroke-width="0.9"/>
<line x1="343.1" y1="209.5" x2="343.1" y2="339.6" stroke="#888" stroke-width="0.9"/>
<line x1="188" y1="329.7" x2="189.6" y2="329.7" stroke="#555" stroke-width="0.6"/>
<text x="185.7" y="331.5" font-size="5.2" text-anchor="end" class="d">−1.5</text>
<line x1="188" y1="311.4" x2="189.6" y2="311.4" stroke="#555" stroke-width="0.6"/>
<text x="185.7" y="313.2" font-size="5.2" text-anchor="end" class="d">−1.0</text>
<line x1="188" y1="293.1" x2="189.6" y2="293.1" stroke="#555" stroke-width="0.6"/>
<text x="185.7" y="294.9" font-size="5.2" text-anchor="end" class="d">−0.5</text>
<line x1="188" y1="274.8" x2="189.6" y2="274.8" stroke="#555" stroke-width="0.6"/>
<text x="185.7" y="276.6" font-size="5.2" text-anchor="end" class="d">0</text>
<line x1="188" y1="256.5" x2="189.6" y2="256.5" stroke="#555" stroke-width="0.6"/>
<text x="185.7" y="258.3" font-size="5.2" text-anchor="end" class="d">0.5</text>
<line x1="188" y1="238.2" x2="189.6" y2="238.2" stroke="#555" stroke-width="0.6"/>
<text x="185.7" y="240" font-size="5.2" text-anchor="end" class="d">1.0</text>
<line x1="188" y1="219.9" x2="189.6" y2="219.9" stroke="#555" stroke-width="0.6"/>
<text x="185.7" y="221.7" font-size="5.2" text-anchor="end" class="d">1.5</text>
<line x1="194.5" y1="339.6" x2="194.5" y2="340.9" stroke="#777" stroke-width="0.5"/>
<line x1="204" y1="339.6" x2="204" y2="340.9" stroke="#777" stroke-width="0.5"/>
<line x1="213.69" y1="339.6" x2="213.69" y2="340.9" stroke="#777" stroke-width="0.5"/>
<line x1="223.19" y1="339.6" x2="223.19" y2="340.9" stroke="#777" stroke-width="0.5"/>
<line x1="232.88" y1="339.6" x2="232.88" y2="340.9" stroke="#777" stroke-width="0.5"/>
<line x1="242.38" y1="339.6" x2="242.38" y2="340.9" stroke="#777" stroke-width="0.5"/>
<line x1="252.06" y1="339.6" x2="252.06" y2="340.9" stroke="#777" stroke-width="0.5"/>
<line x1="261.56" y1="339.6" x2="261.56" y2="340.9" stroke="#777" stroke-width="0.5"/>
<line x1="271.25" y1="339.6" x2="271.25" y2="340.9" stroke="#777" stroke-width="0.5"/>
<line x1="280.75" y1="339.6" x2="280.75" y2="340.9" stroke="#777" stroke-width="0.5"/>
<line x1="290.44" y1="339.6" x2="290.44" y2="340.9" stroke="#777" stroke-width="0.5"/>
<line x1="299.94" y1="339.6" x2="299.94" y2="340.9" stroke="#777" stroke-width="0.5"/>
<line x1="309.62" y1="339.6" x2="309.62" y2="340.9" stroke="#777" stroke-width="0.5"/>
<line x1="319.12" y1="339.6" x2="319.12" y2="340.9" stroke="#777" stroke-width="0.5"/>
<line x1="328.81" y1="339.6" x2="328.81" y2="340.9" stroke="#777" stroke-width="0.5"/>
<line x1="338.31" y1="339.6" x2="338.31" y2="340.9" stroke="#777" stroke-width="0.5"/>
<text x="194.8" y="348.1" font-size="5.0" text-anchor="middle" fill="#d4667f" stroke="#d4667f" stroke-width="0.12">0.10</text>
<text x="204" y="351.8" font-size="5.0" text-anchor="middle" fill="#d4667f" stroke="#d4667f" stroke-width="0.12">0.13</text>
<text x="213.99" y="348.1" font-size="5.0" text-anchor="middle" fill="#2a2a2a" stroke="#2a2a2a" stroke-width="0.12">1.18</text>
<text x="223.19" y="351.8" font-size="5.0" text-anchor="middle" fill="#d4667f" stroke="#d4667f" stroke-width="0.12">0.17</text>
<text x="233.17" y="348.1" font-size="5.0" text-anchor="middle" fill="#d4667f" stroke="#d4667f" stroke-width="0.12">0.19</text>
<text x="242.38" y="351.8" font-size="5.0" text-anchor="middle" fill="#2a2a2a" stroke="#2a2a2a" stroke-width="0.12">0.56</text>
<text x="252.36" y="348.1" font-size="5.0" text-anchor="middle" fill="#d4667f" stroke="#d4667f" stroke-width="0.12">0.10</text>
<text x="261.56" y="351.8" font-size="5.0" text-anchor="middle" fill="#2a2a2a" stroke="#2a2a2a" stroke-width="0.12">0.38</text>
<text x="271.55" y="348.1" font-size="5.0" text-anchor="middle" fill="#d4667f" stroke="#d4667f" stroke-width="0.12">0.07</text>
<text x="280.75" y="351.8" font-size="5.0" text-anchor="middle" fill="#d4667f" stroke="#d4667f" stroke-width="0.12">0.12</text>
<text x="290.74" y="348.1" font-size="5.0" text-anchor="middle" fill="#d4667f" stroke="#d4667f" stroke-width="0.12">0.12</text>
<text x="299.94" y="351.8" font-size="5.0" text-anchor="middle" fill="#d4667f" stroke="#d4667f" stroke-width="0.12">0.09</text>
<text x="309.93" y="348.1" font-size="5.0" text-anchor="middle" fill="#d4667f" stroke="#d4667f" stroke-width="0.12">0.30</text>
<text x="319.12" y="351.8" font-size="5.0" text-anchor="middle" fill="#d4667f" stroke="#d4667f" stroke-width="0.12">0.10</text>
<text x="329.11" y="348.1" font-size="5.0" text-anchor="middle" fill="#2a2a2a" stroke="#2a2a2a" stroke-width="0.12">0.66</text>
<text x="338.31" y="351.8" font-size="5.0" text-anchor="middle" fill="#d4667f" stroke="#d4667f" stroke-width="0.12">0.15</text>
<text x="441.2" y="198.3" font-size="7.9" text-anchor="middle" class="n" stroke="#111" stroke-width="0.1">norm compatibility</text>
<text x="441.2" y="206.5" font-size="6.2" text-anchor="middle" class="d">Was the event compatible with the speaker’s norms?</text>
<rect x="364.5" y="274.8" width="19.18" height="64.8" fill="#d9d9d9"/>
<rect x="402.85" y="209.5" width="19.18" height="65.3" fill="#d9d9d9"/>
<rect x="422.02" y="209.5" width="19.18" height="65.3" fill="#d9d9d9"/>
<rect x="498.73" y="274.8" width="19.18" height="64.8" fill="#d9d9d9"/>
<line x1="364.5" y1="274.8" x2="517.9" y2="274.8" stroke="#8a8a8a" stroke-width="0.8"/>
<line x1="383.68" y1="209.5" x2="383.68" y2="339.6" stroke="#969696" stroke-width="1.0"/>
<line x1="402.85" y1="209.5" x2="402.85" y2="339.6" stroke="#969696" stroke-width="1.0"/>
<line x1="422.02" y1="209.5" x2="422.02" y2="339.6" stroke="#969696" stroke-width="1.0"/>
<line x1="441.2" y1="209.5" x2="441.2" y2="339.6" stroke="#969696" stroke-width="1.0"/>
<line x1="460.38" y1="209.5" x2="460.38" y2="339.6" stroke="#969696" stroke-width="1.0"/>
<line x1="479.55" y1="209.5" x2="479.55" y2="339.6" stroke="#969696" stroke-width="1.0"/>
<line x1="498.73" y1="209.5" x2="498.73" y2="339.6" stroke="#969696" stroke-width="1.0"/>
<rect x="365.2" y="264.5" width="3.8" height="26.3" fill="#2153b2" stroke="#1a3a7a" stroke-width="0.6"/>
<line x1="367.1" y1="274.45" x2="367.1" y2="280.85" stroke="#45a070" stroke-width="0.7"/>
<line x1="365.8" y1="277.65" x2="368.5" y2="277.65" stroke="#45a070" stroke-width="0.7"/>
<rect x="370" y="254.3" width="3.8" height="28.1" fill="#d0dcea" stroke="#6a809c" stroke-width="0.6"/>
<line x1="371.9" y1="265.15" x2="371.9" y2="271.55" stroke="#8a1c1c" stroke-width="0.7"/>
<line x1="370.6" y1="268.35" x2="373.3" y2="268.35" stroke="#8a1c1c" stroke-width="0.7"/>
<rect x="374.8" y="252.6" width="3.8" height="34.1" fill="#efa043" stroke="#9a6424" stroke-width="0.6"/>
<line x1="376.7" y1="266.45" x2="376.7" y2="272.85" stroke="#111111" stroke-width="0.7"/>
<circle cx="376.7" cy="269.65" r="1.05" fill="#111111"/>
<rect x="379.6" y="270.4" width="3.8" height="25.5" fill="#fcefdf" stroke="#94785a" stroke-width="0.6"/>
<line x1="381.5" y1="279.95" x2="381.5" y2="286.35" stroke="#3a8a3a" stroke-width="0.7"/>
<line x1="380.2" y1="283.15" x2="382.9" y2="283.15" stroke="#3a8a3a" stroke-width="0.7"/>
<rect x="384.38" y="283.7" width="3.8" height="27.5" fill="#2153b2" stroke="#1a3a7a" stroke-width="0.6"/>
<line x1="386.27" y1="294.25" x2="386.27" y2="300.65" stroke="#45a070" stroke-width="0.7"/>
<line x1="384.98" y1="297.45" x2="387.68" y2="297.45" stroke="#45a070" stroke-width="0.7"/>
<rect x="389.18" y="270.4" width="3.8" height="17.9" fill="#d0dcea" stroke="#6a809c" stroke-width="0.6"/>
<line x1="391.07" y1="276.15" x2="391.07" y2="282.55" stroke="#3a8a3a" stroke-width="0.7"/>
<line x1="389.78" y1="279.35" x2="392.48" y2="279.35" stroke="#3a8a3a" stroke-width="0.7"/>
<rect x="393.98" y="275.5" width="3.8" height="22.2" fill="#efa043" stroke="#9a6424" stroke-width="0.6"/>
<line x1="395.88" y1="283.4" x2="395.88" y2="289.8" stroke="#3a8a3a" stroke-width="0.7"/>
<line x1="394.58" y1="286.6" x2="397.28" y2="286.6" stroke="#3a8a3a" stroke-width="0.7"/>
<rect x="398.77" y="285.7" width="3.8" height="23.5" fill="#fcefdf" stroke="#94785a" stroke-width="0.6"/>
<line x1="400.67" y1="294.25" x2="400.67" y2="300.65" stroke="#3a8a3a" stroke-width="0.7"/>
<line x1="399.38" y1="297.45" x2="402.07" y2="297.45" stroke="#3a8a3a" stroke-width="0.7"/>
<rect x="403.55" y="233.2" width="3.8" height="27.5" fill="#2153b2" stroke="#1a3a7a" stroke-width="0.6"/>
<line x1="405.45" y1="243.75" x2="405.45" y2="250.15" stroke="#45a070" stroke-width="0.7"/>
<line x1="404.15" y1="246.95" x2="406.85" y2="246.95" stroke="#45a070" stroke-width="0.7"/>
<rect x="408.35" y="245.4" width="3.8" height="25" fill="#d0dcea" stroke="#6a809c" stroke-width="0.6"/>
<line x1="410.25" y1="254.7" x2="410.25" y2="261.1" stroke="#3a8a3a" stroke-width="0.7"/>
<line x1="408.95" y1="257.9" x2="411.65" y2="257.9" stroke="#3a8a3a" stroke-width="0.7"/>
<rect x="413.15" y="232.1" width="3.8" height="35" fill="#efa043" stroke="#9a6424" stroke-width="0.6"/>
<line x1="415.05" y1="246.4" x2="415.05" y2="252.8" stroke="#3a8a3a" stroke-width="0.7"/>
<line x1="413.75" y1="249.6" x2="416.45" y2="249.6" stroke="#3a8a3a" stroke-width="0.7"/>
<rect x="417.95" y="251.8" width="3.8" height="26.3" fill="#fcefdf" stroke="#94785a" stroke-width="0.6"/>
<line x1="419.85" y1="261.75" x2="419.85" y2="268.15" stroke="#3a8a3a" stroke-width="0.7"/>
<line x1="418.55" y1="264.95" x2="421.25" y2="264.95" stroke="#3a8a3a" stroke-width="0.7"/>
<rect x="422.72" y="238.3" width="3.8" height="24.5" fill="#2153b2" stroke="#1a3a7a" stroke-width="0.6"/>
<line x1="424.62" y1="247.35" x2="424.62" y2="253.75" stroke="#45a070" stroke-width="0.7"/>
<line x1="423.32" y1="250.55" x2="426.02" y2="250.55" stroke="#45a070" stroke-width="0.7"/>
<rect x="427.52" y="252.6" width="3.8" height="22.6" fill="#d0dcea" stroke="#6a809c" stroke-width="0.6"/>
<line x1="429.42" y1="260.7" x2="429.42" y2="267.1" stroke="#3a8a3a" stroke-width="0.7"/>
<line x1="428.12" y1="263.9" x2="430.82" y2="263.9" stroke="#3a8a3a" stroke-width="0.7"/>
<rect x="432.32" y="256.1" width="3.8" height="27.6" fill="#efa043" stroke="#9a6424" stroke-width="0.6"/>
<line x1="434.22" y1="266.7" x2="434.22" y2="273.1" stroke="#111111" stroke-width="0.7"/>
<circle cx="434.22" cy="269.9" r="1.05" fill="#111111"/>
<rect x="437.12" y="248" width="3.8" height="24.2" fill="#fcefdf" stroke="#94785a" stroke-width="0.6"/>
<line x1="439.02" y1="256.9" x2="439.02" y2="263.3" stroke="#3a8a3a" stroke-width="0.7"/>
<line x1="437.72" y1="260.1" x2="440.42" y2="260.1" stroke="#3a8a3a" stroke-width="0.7"/>
<rect x="441.9" y="260.2" width="3.8" height="18.5" fill="#2153b2" stroke="#1a3a7a" stroke-width="0.6"/>
<line x1="443.8" y1="266.25" x2="443.8" y2="272.65" stroke="#45a070" stroke-width="0.7"/>
<line x1="442.5" y1="269.45" x2="445.2" y2="269.45" stroke="#45a070" stroke-width="0.7"/>
<rect x="446.7" y="261.4" width="3.8" height="18.3" fill="#d0dcea" stroke="#6a809c" stroke-width="0.6"/>
<line x1="448.6" y1="267.35" x2="448.6" y2="273.75" stroke="#8a1c1c" stroke-width="0.7"/>
<line x1="447.3" y1="270.55" x2="450" y2="270.55" stroke="#8a1c1c" stroke-width="0.7"/>
<rect x="451.5" y="265.8" width="3.8" height="12.9" fill="#efa043" stroke="#9a6424" stroke-width="0.6"/>
<line x1="453.4" y1="269.05" x2="453.4" y2="275.45" stroke="#8a1c1c" stroke-width="0.7"/>
<line x1="452.1" y1="272.25" x2="454.8" y2="272.25" stroke="#8a1c1c" stroke-width="0.7"/>
<rect x="456.3" y="260.2" width="3.8" height="15.5" fill="#fcefdf" stroke="#94785a" stroke-width="0.6"/>
<line x1="458.2" y1="264.75" x2="458.2" y2="271.15" stroke="#3a8a3a" stroke-width="0.7"/>
<line x1="456.9" y1="267.95" x2="459.6" y2="267.95" stroke="#3a8a3a" stroke-width="0.7"/>
<rect x="461.07" y="277.7" width="3.8" height="27.8" fill="#2153b2" stroke="#1a3a7a" stroke-width="0.6"/>
<line x1="462.97" y1="288.4" x2="462.97" y2="294.8" stroke="#45a070" stroke-width="0.7"/>
<line x1="461.68" y1="291.6" x2="464.38" y2="291.6" stroke="#45a070" stroke-width="0.7"/>
<rect x="465.88" y="278.7" width="3.8" height="20.8" fill="#d0dcea" stroke="#6a809c" stroke-width="0.6"/>
<line x1="467.77" y1="285.9" x2="467.77" y2="292.3" stroke="#3a8a3a" stroke-width="0.7"/>
<line x1="466.48" y1="289.1" x2="469.18" y2="289.1" stroke="#3a8a3a" stroke-width="0.7"/>
<rect x="470.68" y="276.7" width="3.8" height="26.8" fill="#efa043" stroke="#9a6424" stroke-width="0.6"/>
<line x1="472.57" y1="286.9" x2="472.57" y2="293.3" stroke="#3a8a3a" stroke-width="0.7"/>
<line x1="471.28" y1="290.1" x2="473.98" y2="290.1" stroke="#3a8a3a" stroke-width="0.7"/>
<rect x="475.47" y="282.7" width="3.8" height="21.8" fill="#fcefdf" stroke="#94785a" stroke-width="0.6"/>
<line x1="477.37" y1="290.4" x2="477.37" y2="296.8" stroke="#3a8a3a" stroke-width="0.7"/>
<line x1="476.07" y1="293.6" x2="478.77" y2="293.6" stroke="#3a8a3a" stroke-width="0.7"/>
<rect x="480.25" y="251.9" width="3.8" height="20.2" fill="#2153b2" stroke="#1a3a7a" stroke-width="0.6"/>
<line x1="482.15" y1="258.8" x2="482.15" y2="265.2" stroke="#45a070" stroke-width="0.7"/>
<line x1="480.85" y1="262" x2="483.55" y2="262" stroke="#45a070" stroke-width="0.7"/>
<rect x="485.05" y="261.4" width="3.8" height="26.2" fill="#d0dcea" stroke="#6a809c" stroke-width="0.6"/>
<line x1="486.95" y1="271.3" x2="486.95" y2="277.7" stroke="#8a1c1c" stroke-width="0.7"/>
<line x1="485.65" y1="274.5" x2="488.35" y2="274.5" stroke="#8a1c1c" stroke-width="0.7"/>
<rect x="489.85" y="259.8" width="3.8" height="24.2" fill="#efa043" stroke="#9a6424" stroke-width="0.6"/>
<line x1="491.75" y1="268.7" x2="491.75" y2="275.1" stroke="#8a1c1c" stroke-width="0.7"/>
<line x1="490.45" y1="271.9" x2="493.15" y2="271.9" stroke="#8a1c1c" stroke-width="0.7"/>
<rect x="494.65" y="250.9" width="3.8" height="21.8" fill="#fcefdf" stroke="#94785a" stroke-width="0.6"/>
<line x1="496.55" y1="258.6" x2="496.55" y2="265" stroke="#3a8a3a" stroke-width="0.7"/>
<line x1="495.25" y1="261.8" x2="497.95" y2="261.8" stroke="#3a8a3a" stroke-width="0.7"/>
<rect x="499.43" y="268.8" width="3.8" height="16.8" fill="#2153b2" stroke="#1a3a7a" stroke-width="0.6"/>
<line x1="501.32" y1="274" x2="501.32" y2="280.4" stroke="#111111" stroke-width="0.7"/>
<circle cx="501.32" cy="277.2" r="1.05" fill="#111111"/>
<rect x="504.23" y="267.4" width="3.8" height="20.2" fill="#d0dcea" stroke="#6a809c" stroke-width="0.6"/>
<line x1="506.12" y1="274.3" x2="506.12" y2="280.7" stroke="#111111" stroke-width="0.7"/>
<circle cx="506.12" cy="277.5" r="1.05" fill="#111111"/>
<rect x="509.03" y="280.7" width="3.8" height="21.8" fill="#efa043" stroke="#9a6424" stroke-width="0.6"/>
<line x1="510.93" y1="288.4" x2="510.93" y2="294.8" stroke="#3a8a3a" stroke-width="0.7"/>
<line x1="509.63" y1="291.6" x2="512.33" y2="291.6" stroke="#3a8a3a" stroke-width="0.7"/>
<rect x="513.83" y="279.7" width="3.8" height="17.8" fill="#fcefdf" stroke="#94785a" stroke-width="0.6"/>
<line x1="515.73" y1="285.4" x2="515.73" y2="291.8" stroke="#3a8a3a" stroke-width="0.7"/>
<line x1="514.43" y1="288.6" x2="517.12" y2="288.6" stroke="#3a8a3a" stroke-width="0.7"/>
<text transform="translate(376.09,334.6) rotate(-90)" font-size="5.6" class="d">anger</text>
<text transform="translate(395.26,334.6) rotate(-90)" font-size="5.6" class="d">fear</text>
<text transform="translate(414.44,334.6) rotate(-90)" font-size="5.6" class="d">happiness</text>
<text transform="translate(433.61,334.6) rotate(-90)" font-size="5.6" class="d">pride</text>
<text transform="translate(452.79,334.6) rotate(-90)" font-size="5.6" class="d">relief</text>
<text transform="translate(471.96,334.6) rotate(-90)" font-size="5.6" class="d">sadness</text>
<text transform="translate(491.14,334.6) rotate(-90)" font-size="5.6" class="d">serenity</text>
<text transform="translate(510.31,334.6) rotate(-90)" font-size="5.6" class="d">shame</text>
<rect x="364.5" y="209.5" width="153.4" height="130.1" fill="none" stroke="#9c9c9c" stroke-width="0.9"/>
<line x1="364.05" y1="339.6" x2="518.35" y2="339.6" stroke="#999" stroke-width="0.9"/>
<line x1="517.9" y1="209.5" x2="517.9" y2="339.6" stroke="#888" stroke-width="0.9"/>
<line x1="362.9" y1="329.7" x2="364.5" y2="329.7" stroke="#555" stroke-width="0.6"/>
<text x="360.6" y="331.5" font-size="5.2" text-anchor="end" class="d">−1.5</text>
<line x1="362.9" y1="311.4" x2="364.5" y2="311.4" stroke="#555" stroke-width="0.6"/>
<text x="360.6" y="313.2" font-size="5.2" text-anchor="end" class="d">−1.0</text>
<line x1="362.9" y1="293.1" x2="364.5" y2="293.1" stroke="#555" stroke-width="0.6"/>
<text x="360.6" y="294.9" font-size="5.2" text-anchor="end" class="d">−0.5</text>
<line x1="362.9" y1="274.8" x2="364.5" y2="274.8" stroke="#555" stroke-width="0.6"/>
<text x="360.6" y="276.6" font-size="5.2" text-anchor="end" class="d">0</text>
<line x1="362.9" y1="256.5" x2="364.5" y2="256.5" stroke="#555" stroke-width="0.6"/>
<text x="360.6" y="258.3" font-size="5.2" text-anchor="end" class="d">0.5</text>
<line x1="362.9" y1="238.2" x2="364.5" y2="238.2" stroke="#555" stroke-width="0.6"/>
<text x="360.6" y="240" font-size="5.2" text-anchor="end" class="d">1.0</text>
<line x1="362.9" y1="219.9" x2="364.5" y2="219.9" stroke="#555" stroke-width="0.6"/>
<text x="360.6" y="221.7" font-size="5.2" text-anchor="end" class="d">1.5</text>
<line x1="369.4" y1="339.6" x2="369.4" y2="340.9" stroke="#777" stroke-width="0.5"/>
<line x1="378.9" y1="339.6" x2="378.9" y2="340.9" stroke="#777" stroke-width="0.5"/>
<line x1="388.57" y1="339.6" x2="388.57" y2="340.9" stroke="#777" stroke-width="0.5"/>
<line x1="398.07" y1="339.6" x2="398.07" y2="340.9" stroke="#777" stroke-width="0.5"/>
<line x1="407.75" y1="339.6" x2="407.75" y2="340.9" stroke="#777" stroke-width="0.5"/>
<line x1="417.25" y1="339.6" x2="417.25" y2="340.9" stroke="#777" stroke-width="0.5"/>
<line x1="426.92" y1="339.6" x2="426.92" y2="340.9" stroke="#777" stroke-width="0.5"/>
<line x1="436.42" y1="339.6" x2="436.42" y2="340.9" stroke="#777" stroke-width="0.5"/>
<line x1="446.1" y1="339.6" x2="446.1" y2="340.9" stroke="#777" stroke-width="0.5"/>
<line x1="455.6" y1="339.6" x2="455.6" y2="340.9" stroke="#777" stroke-width="0.5"/>
<line x1="465.27" y1="339.6" x2="465.27" y2="340.9" stroke="#777" stroke-width="0.5"/>
<line x1="474.77" y1="339.6" x2="474.77" y2="340.9" stroke="#777" stroke-width="0.5"/>
<line x1="484.45" y1="339.6" x2="484.45" y2="340.9" stroke="#777" stroke-width="0.5"/>
<line x1="493.95" y1="339.6" x2="493.95" y2="340.9" stroke="#777" stroke-width="0.5"/>
<line x1="503.62" y1="339.6" x2="503.62" y2="340.9" stroke="#777" stroke-width="0.5"/>
<line x1="513.12" y1="339.6" x2="513.12" y2="340.9" stroke="#777" stroke-width="0.5"/>
<text x="369.7" y="348.1" font-size="5.0" text-anchor="middle" fill="#2a2a2a" stroke="#2a2a2a" stroke-width="0.12">1.03</text>
<text x="378.9" y="351.8" font-size="5.0" text-anchor="middle" fill="#7ccf7c" stroke="#7ccf7c" stroke-width="0.12">4.09</text>
<text x="388.88" y="348.1" font-size="5.0" text-anchor="middle" fill="#7ccf7c" stroke="#7ccf7c" stroke-width="0.12">8.21</text>
<text x="398.07" y="351.8" font-size="5.0" text-anchor="middle" fill="#7ccf7c" stroke="#7ccf7c" stroke-width="0.12">5.70</text>
<text x="408.05" y="348.1" font-size="5.0" text-anchor="middle" fill="#2a2a2a" stroke="#2a2a2a" stroke-width="0.12">2.64</text>
<text x="417.25" y="351.8" font-size="5.0" text-anchor="middle" fill="#2a2a2a" stroke="#2a2a2a" stroke-width="0.12">1.64</text>
<text x="427.22" y="348.1" font-size="5.0" text-anchor="middle" fill="#7ccf7c" stroke="#7ccf7c" stroke-width="0.12">69</text>
<text x="436.42" y="351.8" font-size="5.0" text-anchor="middle" fill="#7ccf7c" stroke="#7ccf7c" stroke-width="0.12">11</text>
<text x="446.4" y="348.1" font-size="5.0" text-anchor="middle" fill="#d4667f" stroke="#d4667f" stroke-width="0.12">0.10</text>
<text x="455.6" y="351.8" font-size="5.0" text-anchor="middle" fill="#d4667f" stroke="#d4667f" stroke-width="0.12">0.23</text>
<text x="465.57" y="348.1" font-size="5.0" text-anchor="middle" fill="#d4667f" stroke="#d4667f" stroke-width="0.12">0.10</text>
<text x="474.77" y="351.8" font-size="5.0" text-anchor="middle" fill="#d4667f" stroke="#d4667f" stroke-width="0.12">0.12</text>
<text x="484.75" y="348.1" font-size="5.0" text-anchor="middle" fill="#7ccf7c" stroke="#7ccf7c" stroke-width="0.12">4713</text>
<text x="493.95" y="351.8" font-size="5.0" text-anchor="middle" fill="#7ccf7c" stroke="#7ccf7c" stroke-width="0.12">5.82</text>
<text x="503.93" y="348.1" font-size="5.0" text-anchor="middle" fill="#d4667f" stroke="#d4667f" stroke-width="0.12">0.17</text>
<text x="513.12" y="351.8" font-size="5.0" text-anchor="middle" fill="#d4667f" stroke="#d4667f" stroke-width="0.12">0.09</text>
</svg></body></html>
